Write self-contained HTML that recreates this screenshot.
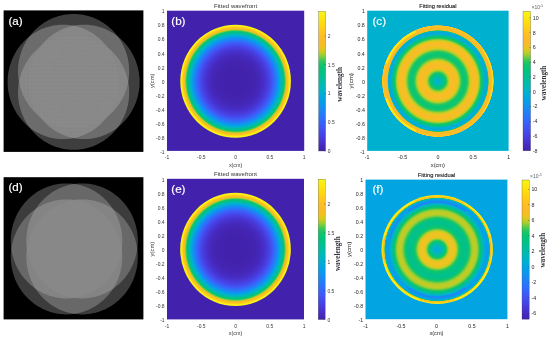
<!DOCTYPE html><html><head><meta charset="utf-8"><title>figure</title><style>html,body{margin:0;padding:0;background:#fff}svg{display:block}</style></head><body><svg width="550" height="340" viewBox="0 0 550 340">
<defs><filter id="bl" x="-20%" y="-20%" width="140%" height="140%"><feGaussianBlur stdDeviation="0.6"/></filter><pattern id="grid" width="1.35" height="1.35" patternUnits="userSpaceOnUse"><path d="M0,0H1.35M0,0V1.35" stroke="#000" stroke-opacity="0.04" stroke-width="0.5" fill="none"/></pattern></defs>
<rect width="550" height="340" fill="#fff"/>
<rect x="3.6" y="10.4" width="139.8" height="141.5" fill="#000"/>
<path d="M117.43,36.01 116.58,34.91 115.70,33.84 114.80,32.79 113.87,31.76 112.91,30.75 111.94,29.77 110.94,28.82 109.92,27.89 108.87,26.98 107.81,26.11 106.72,25.26 105.61,24.43 104.49,23.64 103.35,22.87 102.18,22.14 101.00,21.43 99.81,20.75 98.60,20.11 97.37,19.49 96.13,18.91 94.88,18.35 93.61,17.83 92.33,17.34 91.04,16.89 89.74,16.46 88.43,16.07 87.11,15.71 85.78,15.39 84.45,15.10 83.11,14.84 81.76,14.62 80.41,14.43 79.05,14.28 77.69,14.15 76.33,14.07 74.96,14.02 73.60,14.00 72.24,14.02 70.87,14.07 69.51,14.15 68.15,14.28 66.79,14.43 65.44,14.62 64.09,14.84 62.75,15.10 61.42,15.39 60.09,15.71 58.77,16.07 57.46,16.46 56.16,16.89 54.87,17.34 53.59,17.83 52.32,18.35 51.07,18.91 49.83,19.49 48.60,20.11 47.39,20.75 46.20,21.43 45.02,22.14 43.85,22.87 42.71,23.64 41.59,24.43 40.48,25.26 39.39,26.11 38.33,26.98 37.28,27.89 36.26,28.82 35.26,29.77 34.29,30.75 33.33,31.76 32.40,32.79 31.50,33.84 30.62,34.91 29.77,36.01 29.43,36.46 28.99,36.81 27.93,37.68 26.88,38.59 25.86,39.52 24.86,40.47 23.89,41.45 22.93,42.46 22.00,43.49 21.10,44.54 20.22,45.61 19.37,46.71 18.54,47.83 17.74,48.96 16.97,50.12 16.23,51.30 15.51,52.49 14.82,53.71 14.17,54.94 13.54,56.18 12.94,57.44 12.37,58.72 11.83,60.01 11.33,61.31 10.85,62.63 10.41,63.96 10.00,65.30 9.62,66.64 9.27,68.00 8.95,69.37 8.67,70.74 8.42,72.12 8.20,73.51 8.02,74.90 7.87,76.29 7.75,77.69 7.67,79.09 7.62,80.50 7.60,81.90 7.62,83.30 7.67,84.71 7.75,86.11 7.87,87.51 8.02,88.90 8.20,90.29 8.42,91.68 8.67,93.06 8.95,94.43 9.27,95.80 9.62,97.16 10.00,98.50 10.41,99.84 10.85,101.17 11.33,102.49 11.83,103.79 12.37,105.08 12.94,106.36 13.54,107.62 14.17,108.86 14.82,110.09 15.51,111.31 16.23,112.50 16.97,113.68 17.74,114.84 18.54,115.97 19.37,117.09 20.22,118.19 21.10,119.26 22.00,120.31 22.93,121.34 23.89,122.35 24.86,123.33 25.86,124.28 26.88,125.21 27.93,126.12 28.99,126.99 29.43,127.34 29.77,127.79 30.62,128.89 31.50,129.96 32.40,131.01 33.33,132.04 34.29,133.05 35.26,134.03 36.26,134.98 37.28,135.91 38.33,136.82 39.39,137.69 40.48,138.54 41.59,139.37 42.71,140.16 43.85,140.93 45.02,141.66 46.20,142.37 47.39,143.05 48.60,143.69 49.83,144.31 51.07,144.89 52.32,145.45 53.59,145.97 54.87,146.46 56.16,146.91 57.46,147.34 58.77,147.73 60.09,148.09 61.42,148.41 62.75,148.70 64.09,148.96 65.44,149.18 66.79,149.37 68.15,149.52 69.51,149.65 70.87,149.73 72.24,149.78 73.60,149.80 74.96,149.78 76.33,149.73 77.69,149.65 79.05,149.52 80.41,149.37 81.76,149.18 83.11,148.96 84.45,148.70 85.78,148.41 87.11,148.09 88.43,147.73 89.74,147.34 91.04,146.91 92.33,146.46 93.61,145.97 94.88,145.45 96.13,144.89 97.37,144.31 98.60,143.69 99.81,143.05 101.00,142.37 102.18,141.66 103.35,140.93 104.49,140.16 105.61,139.37 106.72,138.54 107.81,137.69 108.87,136.82 109.92,135.91 110.94,134.98 111.94,134.03 112.91,133.05 113.87,132.04 114.80,131.01 115.70,129.96 116.58,128.89 117.43,127.79 117.77,127.34 118.21,126.99 119.27,126.12 120.32,125.21 121.34,124.28 122.34,123.33 123.31,122.35 124.27,121.34 125.20,120.31 126.10,119.26 126.98,118.19 127.83,117.09 128.66,115.97 129.46,114.84 130.23,113.68 130.97,112.50 131.69,111.31 132.38,110.09 133.03,108.86 133.66,107.62 134.26,106.36 134.83,105.08 135.37,103.79 135.87,102.49 136.35,101.17 136.79,99.84 137.20,98.50 137.58,97.16 137.93,95.80 138.25,94.43 138.53,93.06 138.78,91.68 139.00,90.29 139.18,88.90 139.33,87.51 139.45,86.11 139.53,84.71 139.58,83.30 139.60,81.90 139.58,80.50 139.53,79.09 139.45,77.69 139.33,76.29 139.18,74.90 139.00,73.51 138.78,72.12 138.53,70.74 138.25,69.37 137.93,68.00 137.58,66.64 137.20,65.30 136.79,63.96 136.35,62.63 135.87,61.31 135.37,60.01 134.83,58.72 134.26,57.44 133.66,56.18 133.03,54.94 132.38,53.71 131.69,52.49 130.97,51.30 130.23,50.12 129.46,48.96 128.66,47.83 127.83,46.71 126.98,45.61 126.10,44.54 125.20,43.49 124.27,42.46 123.31,41.45 122.34,40.47 121.34,39.52 120.32,38.59 119.27,37.68 118.21,36.81 117.77,36.46Z" fill="#3e3e3e" fill-rule="evenodd"/>
<path d="M71.36,25.32 70.01,25.13 68.65,24.98 67.29,24.85 65.93,24.77 64.56,24.72 63.20,24.70 61.84,24.72 60.47,24.77 59.11,24.85 57.75,24.98 56.39,25.13 55.04,25.32 53.69,25.54 52.35,25.80 51.02,26.09 49.69,26.41 48.37,26.77 47.06,27.16 45.76,27.59 44.47,28.04 43.19,28.53 41.92,29.05 40.67,29.61 39.43,30.19 38.20,30.81 36.99,31.45 35.80,32.13 34.62,32.84 33.45,33.57 32.31,34.34 31.19,35.13 30.08,35.96 29.43,36.46 28.94,37.13 28.14,38.26 27.37,39.42 26.63,40.60 25.91,41.79 25.22,43.01 24.57,44.24 23.94,45.48 23.34,46.74 22.77,48.02 22.23,49.31 21.73,50.61 21.25,51.93 20.81,53.26 20.40,54.60 20.02,55.94 19.67,57.30 19.35,58.67 19.07,60.04 18.82,61.42 18.60,62.81 18.42,64.20 18.27,65.59 18.15,66.99 18.07,68.39 18.02,69.80 18.00,71.20 18.02,72.60 18.07,74.01 18.15,75.41 18.27,76.81 18.42,78.20 18.60,79.59 18.82,80.98 18.99,81.90 18.82,82.82 18.60,84.21 18.42,85.60 18.27,86.99 18.15,88.39 18.07,89.79 18.02,91.20 18.00,92.60 18.02,94.00 18.07,95.41 18.15,96.81 18.27,98.21 18.42,99.60 18.60,100.99 18.82,102.38 19.07,103.76 19.35,105.13 19.67,106.50 20.02,107.86 20.40,109.20 20.81,110.54 21.25,111.87 21.73,113.19 22.23,114.49 22.77,115.78 23.34,117.06 23.94,118.32 24.57,119.56 25.22,120.79 25.91,122.01 26.63,123.20 27.37,124.38 28.14,125.54 28.94,126.67 29.43,127.34 30.08,127.84 31.19,128.67 32.31,129.46 33.45,130.23 34.62,130.96 35.80,131.67 36.99,132.35 38.20,132.99 39.43,133.61 40.67,134.19 41.92,134.75 43.19,135.27 44.47,135.76 45.76,136.21 47.06,136.64 48.37,137.03 49.69,137.39 51.02,137.71 52.35,138.00 53.69,138.26 55.04,138.48 56.39,138.67 57.75,138.82 59.11,138.95 60.47,139.03 61.84,139.08 63.20,139.10 64.56,139.08 65.93,139.03 67.29,138.95 68.65,138.82 70.01,138.67 71.36,138.48 72.70,138.26 73.60,138.09 74.50,138.26 75.84,138.48 77.19,138.67 78.55,138.82 79.91,138.95 81.27,139.03 82.64,139.08 84.00,139.10 85.36,139.08 86.73,139.03 88.09,138.95 89.45,138.82 90.81,138.67 92.16,138.48 93.51,138.26 94.85,138.00 96.18,137.71 97.51,137.39 98.83,137.03 100.14,136.64 101.44,136.21 102.73,135.76 104.01,135.27 105.28,134.75 106.53,134.19 107.77,133.61 109.00,132.99 110.21,132.35 111.40,131.67 112.58,130.96 113.75,130.23 114.89,129.46 116.01,128.67 117.12,127.84 117.77,127.34 118.26,126.67 119.06,125.54 119.83,124.38 120.57,123.20 121.29,122.01 121.98,120.79 122.63,119.56 123.26,118.32 123.86,117.06 124.43,115.78 124.97,114.49 125.47,113.19 125.95,111.87 126.39,110.54 126.80,109.20 127.18,107.86 127.53,106.50 127.85,105.13 128.13,103.76 128.38,102.38 128.60,100.99 128.78,99.60 128.93,98.21 129.05,96.81 129.13,95.41 129.18,94.00 129.20,92.60 129.18,91.20 129.13,89.79 129.05,88.39 128.93,86.99 128.78,85.60 128.60,84.21 128.38,82.82 128.21,81.90 128.21,81.90 128.21,81.90 128.38,80.98 128.60,79.59 128.78,78.20 128.93,76.81 129.05,75.41 129.13,74.01 129.18,72.60 129.20,71.20 129.18,69.80 129.13,68.39 129.05,66.99 128.93,65.59 128.78,64.20 128.60,62.81 128.38,61.42 128.13,60.04 127.85,58.67 127.53,57.30 127.18,55.94 126.80,54.60 126.39,53.26 125.95,51.93 125.47,50.61 124.97,49.31 124.43,48.02 123.86,46.74 123.26,45.48 122.63,44.24 121.98,43.01 121.29,41.79 120.57,40.60 119.83,39.42 119.06,38.26 118.26,37.13 117.77,36.46 117.12,35.96 116.01,35.13 114.89,34.34 113.75,33.57 112.58,32.84 111.40,32.13 110.21,31.45 109.00,30.81 107.77,30.19 106.53,29.61 105.28,29.05 104.01,28.53 102.73,28.04 101.44,27.59 100.14,27.16 98.83,26.77 97.51,26.41 96.18,26.09 94.85,25.80 93.51,25.54 92.16,25.32 90.81,25.13 89.45,24.98 88.09,24.85 86.73,24.77 85.36,24.72 84.00,24.70 82.64,24.72 81.27,24.77 79.91,24.85 78.55,24.98 77.19,25.13 75.84,25.32 74.50,25.54 73.60,25.71 72.70,25.54Z" fill="#6c6c6c" fill-rule="evenodd"/>
<path d="M107.03,46.71 106.18,45.61 105.30,44.54 104.40,43.49 103.47,42.46 102.51,41.45 101.54,40.47 100.54,39.52 99.51,38.59 98.47,37.68 97.41,36.81 96.32,35.96 95.21,35.13 94.09,34.34 92.94,33.57 91.78,32.84 90.60,32.13 89.41,31.45 88.20,30.81 86.97,30.19 85.73,29.61 84.48,29.05 83.21,28.53 81.93,28.04 80.64,27.59 79.34,27.16 78.03,26.77 76.71,26.41 75.38,26.09 74.05,25.80 73.60,25.71 73.15,25.80 71.82,26.09 70.49,26.41 69.17,26.77 67.86,27.16 66.56,27.59 65.27,28.04 63.99,28.53 62.72,29.05 61.47,29.61 60.23,30.19 59.00,30.81 57.79,31.45 56.60,32.13 55.42,32.84 54.26,33.57 53.11,34.34 51.99,35.13 50.88,35.96 49.79,36.81 48.73,37.68 47.69,38.59 46.66,39.52 45.66,40.47 44.69,41.45 43.73,42.46 42.80,43.49 41.90,44.54 41.02,45.61 40.17,46.71 39.83,47.16 39.39,47.51 38.33,48.38 37.28,49.29 36.26,50.22 35.26,51.17 34.29,52.15 33.33,53.16 32.40,54.19 31.50,55.24 30.62,56.31 29.77,57.41 28.94,58.53 28.14,59.66 27.37,60.82 26.63,62.00 25.91,63.19 25.22,64.41 24.57,65.64 23.94,66.88 23.34,68.14 22.77,69.42 22.23,70.71 21.73,72.01 21.25,73.33 20.81,74.66 20.40,76.00 20.02,77.34 19.67,78.70 19.35,80.07 19.07,81.44 18.99,81.90 19.07,82.36 19.35,83.73 19.67,85.10 20.02,86.46 20.40,87.80 20.81,89.14 21.25,90.47 21.73,91.79 22.23,93.09 22.77,94.38 23.34,95.66 23.94,96.92 24.57,98.16 25.22,99.39 25.91,100.61 26.63,101.80 27.37,102.98 28.14,104.14 28.94,105.27 29.77,106.39 30.62,107.49 31.50,108.56 32.40,109.61 33.33,110.64 34.29,111.65 35.26,112.63 36.26,113.58 37.28,114.51 38.33,115.42 39.39,116.29 39.83,116.64 39.83,116.64 40.17,117.09 41.02,118.19 41.90,119.26 42.80,120.31 43.73,121.34 44.69,122.35 45.66,123.33 46.66,124.28 47.69,125.21 48.73,126.12 49.79,126.99 50.88,127.84 51.99,128.67 53.11,129.46 54.26,130.23 55.42,130.96 56.60,131.67 57.79,132.35 59.00,132.99 60.23,133.61 61.47,134.19 62.72,134.75 63.99,135.27 65.27,135.76 66.56,136.21 67.86,136.64 69.17,137.03 70.49,137.39 71.82,137.71 73.15,138.00 73.60,138.09 74.05,138.00 75.38,137.71 76.71,137.39 78.03,137.03 79.34,136.64 80.64,136.21 81.93,135.76 83.21,135.27 84.48,134.75 85.73,134.19 86.97,133.61 88.20,132.99 89.41,132.35 90.60,131.67 91.78,130.96 92.94,130.23 94.09,129.46 95.21,128.67 96.32,127.84 97.41,126.99 98.47,126.12 99.51,125.21 100.54,124.28 101.54,123.33 102.51,122.35 103.47,121.34 104.40,120.31 105.30,119.26 106.18,118.19 107.03,117.09 107.37,116.64 107.81,116.29 108.87,115.42 109.92,114.51 110.94,113.58 111.94,112.63 112.91,111.65 113.87,110.64 114.80,109.61 115.70,108.56 116.58,107.49 117.43,106.39 118.26,105.27 119.06,104.14 119.83,102.98 120.57,101.80 121.29,100.61 121.98,99.39 122.63,98.16 123.26,96.92 123.86,95.66 124.43,94.38 124.97,93.09 125.47,91.79 125.95,90.47 126.39,89.14 126.80,87.80 127.18,86.46 127.53,85.10 127.85,83.73 128.13,82.36 128.21,81.90 128.13,81.44 127.85,80.07 127.53,78.70 127.18,77.34 126.80,76.00 126.39,74.66 125.95,73.33 125.47,72.01 124.97,70.71 124.43,69.42 123.86,68.14 123.26,66.88 122.63,65.64 121.98,64.41 121.29,63.19 120.57,62.00 119.83,60.82 119.06,59.66 118.26,58.53 117.43,57.41 116.58,56.31 115.70,55.24 114.80,54.19 113.87,53.16 112.91,52.15 111.94,51.17 110.94,50.22 109.92,49.29 108.87,48.38 107.81,47.51 107.37,47.16Z" fill="#898989" fill-rule="evenodd"/>
<path d="M118.65,77.69 118.53,76.29 118.38,74.90 118.20,73.51 117.98,72.12 117.73,70.74 117.45,69.37 117.13,68.00 116.78,66.64 116.40,65.30 115.99,63.96 115.55,62.63 115.07,61.31 114.57,60.01 114.03,58.72 113.46,57.44 112.86,56.18 112.23,54.94 111.58,53.71 110.89,52.49 110.17,51.30 109.43,50.12 108.66,48.96 107.86,47.83 107.37,47.16 106.72,46.66 105.61,45.83 104.49,45.04 103.35,44.27 102.18,43.54 101.00,42.83 99.81,42.15 98.60,41.51 97.37,40.89 96.13,40.31 94.88,39.75 93.61,39.23 92.33,38.74 91.04,38.29 89.74,37.86 88.43,37.47 87.11,37.11 85.78,36.79 84.45,36.50 83.11,36.24 81.76,36.02 80.41,35.83 79.05,35.68 77.69,35.55 76.33,35.47 74.96,35.42 73.60,35.40 72.24,35.42 70.87,35.47 69.51,35.55 68.15,35.68 66.79,35.83 65.44,36.02 64.09,36.24 62.75,36.50 61.42,36.79 60.09,37.11 58.77,37.47 57.46,37.86 56.16,38.29 54.87,38.74 53.59,39.23 52.32,39.75 51.07,40.31 49.83,40.89 48.60,41.51 47.39,42.15 46.20,42.83 45.02,43.54 43.85,44.27 42.71,45.04 41.59,45.83 40.48,46.66 39.83,47.16 39.34,47.83 38.54,48.96 37.77,50.12 37.03,51.30 36.31,52.49 35.62,53.71 34.97,54.94 34.34,56.18 33.74,57.44 33.17,58.72 32.63,60.01 32.13,61.31 31.65,62.63 31.21,63.96 30.80,65.30 30.42,66.64 30.07,68.00 29.75,69.37 29.47,70.74 29.22,72.12 29.00,73.51 28.82,74.90 28.67,76.29 28.55,77.69 28.47,79.09 28.42,80.50 28.40,81.90 28.42,83.30 28.47,84.71 28.55,86.11 28.67,87.51 28.82,88.90 29.00,90.29 29.22,91.68 29.47,93.06 29.75,94.43 30.07,95.80 30.42,97.16 30.80,98.50 31.21,99.84 31.65,101.17 32.13,102.49 32.63,103.79 33.17,105.08 33.74,106.36 34.34,107.62 34.97,108.86 35.62,110.09 36.31,111.31 37.03,112.50 37.77,113.68 38.54,114.84 39.34,115.97 39.83,116.64 40.48,117.14 41.59,117.97 42.71,118.76 43.85,119.53 45.02,120.26 46.20,120.97 47.39,121.65 48.60,122.29 49.83,122.91 51.07,123.49 52.32,124.05 53.59,124.57 54.87,125.06 56.16,125.51 57.46,125.94 58.77,126.33 60.09,126.69 61.42,127.01 62.75,127.30 64.09,127.56 65.44,127.78 66.79,127.97 68.15,128.12 69.51,128.25 70.87,128.33 72.24,128.38 73.60,128.40 74.96,128.38 76.33,128.33 77.69,128.25 79.05,128.12 80.41,127.97 81.76,127.78 83.11,127.56 84.45,127.30 85.78,127.01 87.11,126.69 88.43,126.33 89.74,125.94 91.04,125.51 92.33,125.06 93.61,124.57 94.88,124.05 96.13,123.49 97.37,122.91 98.60,122.29 99.81,121.65 101.00,120.97 102.18,120.26 103.35,119.53 104.49,118.76 105.61,117.97 106.72,117.14 107.37,116.64 107.86,115.97 108.66,114.84 109.43,113.68 110.17,112.50 110.89,111.31 111.58,110.09 112.23,108.86 112.86,107.62 113.46,106.36 114.03,105.08 114.57,103.79 115.07,102.49 115.55,101.17 115.99,99.84 116.40,98.50 116.78,97.16 117.13,95.80 117.45,94.43 117.73,93.06 117.98,91.68 118.20,90.29 118.38,88.90 118.53,87.51 118.65,86.11 118.73,84.71 118.78,83.30 118.80,81.90 118.78,80.50 118.73,79.09Z" fill="#8b8b8b" fill-rule="evenodd"/>
<path d="M107.03,46.71 106.18,45.61 105.30,44.54 104.40,43.49 103.47,42.46 102.51,41.45 101.54,40.47 100.54,39.52 99.51,38.59 98.47,37.68 97.41,36.81 96.32,35.96 95.21,35.13 94.09,34.34 92.94,33.57 91.78,32.84 90.60,32.13 89.41,31.45 88.20,30.81 86.97,30.19 85.73,29.61 84.48,29.05 83.21,28.53 81.93,28.04 80.64,27.59 79.34,27.16 78.03,26.77 76.71,26.41 75.38,26.09 74.05,25.80 73.60,25.71 73.15,25.80 71.82,26.09 70.49,26.41 69.17,26.77 67.86,27.16 66.56,27.59 65.27,28.04 63.99,28.53 62.72,29.05 61.47,29.61 60.23,30.19 59.00,30.81 57.79,31.45 56.60,32.13 55.42,32.84 54.26,33.57 53.11,34.34 51.99,35.13 50.88,35.96 49.79,36.81 48.73,37.68 47.69,38.59 46.66,39.52 45.66,40.47 44.69,41.45 43.73,42.46 42.80,43.49 41.90,44.54 41.02,45.61 40.17,46.71 39.83,47.16 39.39,47.51 38.33,48.38 37.28,49.29 36.26,50.22 35.26,51.17 34.29,52.15 33.33,53.16 32.40,54.19 31.50,55.24 30.62,56.31 29.77,57.41 28.94,58.53 28.14,59.66 27.37,60.82 26.63,62.00 25.91,63.19 25.22,64.41 24.57,65.64 23.94,66.88 23.34,68.14 22.77,69.42 22.23,70.71 21.73,72.01 21.25,73.33 20.81,74.66 20.40,76.00 20.02,77.34 19.67,78.70 19.35,80.07 19.07,81.44 18.99,81.90 19.07,82.36 19.35,83.73 19.67,85.10 20.02,86.46 20.40,87.80 20.81,89.14 21.25,90.47 21.73,91.79 22.23,93.09 22.77,94.38 23.34,95.66 23.94,96.92 24.57,98.16 25.22,99.39 25.91,100.61 26.63,101.80 27.37,102.98 28.14,104.14 28.94,105.27 29.77,106.39 30.62,107.49 31.50,108.56 32.40,109.61 33.33,110.64 34.29,111.65 35.26,112.63 36.26,113.58 37.28,114.51 38.33,115.42 39.39,116.29 39.83,116.64 39.83,116.64 40.17,117.09 41.02,118.19 41.90,119.26 42.80,120.31 43.73,121.34 44.69,122.35 45.66,123.33 46.66,124.28 47.69,125.21 48.73,126.12 49.79,126.99 50.88,127.84 51.99,128.67 53.11,129.46 54.26,130.23 55.42,130.96 56.60,131.67 57.79,132.35 59.00,132.99 60.23,133.61 61.47,134.19 62.72,134.75 63.99,135.27 65.27,135.76 66.56,136.21 67.86,136.64 69.17,137.03 70.49,137.39 71.82,137.71 73.15,138.00 73.60,138.09 74.05,138.00 75.38,137.71 76.71,137.39 78.03,137.03 79.34,136.64 80.64,136.21 81.93,135.76 83.21,135.27 84.48,134.75 85.73,134.19 86.97,133.61 88.20,132.99 89.41,132.35 90.60,131.67 91.78,130.96 92.94,130.23 94.09,129.46 95.21,128.67 96.32,127.84 97.41,126.99 98.47,126.12 99.51,125.21 100.54,124.28 101.54,123.33 102.51,122.35 103.47,121.34 104.40,120.31 105.30,119.26 106.18,118.19 107.03,117.09 107.37,116.64 107.81,116.29 108.87,115.42 109.92,114.51 110.94,113.58 111.94,112.63 112.91,111.65 113.87,110.64 114.80,109.61 115.70,108.56 116.58,107.49 117.43,106.39 118.26,105.27 119.06,104.14 119.83,102.98 120.57,101.80 121.29,100.61 121.98,99.39 122.63,98.16 123.26,96.92 123.86,95.66 124.43,94.38 124.97,93.09 125.47,91.79 125.95,90.47 126.39,89.14 126.80,87.80 127.18,86.46 127.53,85.10 127.85,83.73 128.13,82.36 128.21,81.90 128.13,81.44 127.85,80.07 127.53,78.70 127.18,77.34 126.80,76.00 126.39,74.66 125.95,73.33 125.47,72.01 124.97,70.71 124.43,69.42 123.86,68.14 123.26,66.88 122.63,65.64 121.98,64.41 121.29,63.19 120.57,62.00 119.83,60.82 119.06,59.66 118.26,58.53 117.43,57.41 116.58,56.31 115.70,55.24 114.80,54.19 113.87,53.16 112.91,52.15 111.94,51.17 110.94,50.22 109.92,49.29 108.87,48.38 107.81,47.51 107.37,47.16Z" fill="url(#grid)" fill-rule="evenodd"/>
<text x="8.4" y="24.7" font-family='"Liberation Sans", Arial, sans-serif' font-size="11.6" fill="#fff" stroke="#fff" stroke-width="0.2">(a)</text>
<rect x="3.6" y="177.2" width="139.8" height="142.2" fill="#000"/>
<path d="M72.01,183.68 70.64,183.56 69.28,183.47 67.91,183.42 66.54,183.40 65.17,183.42 63.80,183.47 62.44,183.56 61.07,183.68 59.71,183.83 58.36,184.02 57.00,184.25 55.66,184.50 54.32,184.80 52.99,185.12 51.66,185.48 50.35,185.88 49.04,186.30 47.75,186.76 46.47,187.25 45.20,187.78 43.94,188.33 42.69,188.92 41.46,189.54 40.25,190.19 39.05,190.87 37.87,191.58 36.70,192.32 35.55,193.09 34.42,193.89 33.31,194.72 32.23,195.57 31.16,196.45 30.11,197.36 29.08,198.30 28.08,199.26 27.10,200.24 26.15,201.25 25.21,202.29 24.31,203.34 23.43,204.42 22.57,205.52 21.74,206.65 20.94,207.79 20.16,208.95 19.42,210.14 18.70,211.34 18.01,212.56 17.35,213.79 16.72,215.05 16.12,216.32 15.55,217.60 15.01,218.90 14.50,220.21 14.03,221.53 13.58,222.86 13.17,224.21 12.79,225.56 12.44,226.93 12.12,228.30 11.84,229.68 11.59,231.07 11.37,232.46 11.18,233.86 11.03,235.26 10.92,236.67 10.83,238.08 10.78,239.49 10.77,240.90 10.78,242.31 10.83,243.72 10.92,245.13 11.03,246.54 11.18,247.94 11.31,248.90 11.18,249.86 11.03,251.26 10.92,252.67 10.83,254.08 10.78,255.49 10.77,256.90 10.78,258.31 10.83,259.72 10.92,261.13 11.03,262.54 11.18,263.94 11.37,265.34 11.59,266.73 11.84,268.12 12.12,269.50 12.44,270.87 12.79,272.24 13.17,273.59 13.58,274.94 14.03,276.27 14.50,277.59 15.01,278.90 15.55,280.20 16.12,281.48 16.72,282.75 17.35,284.01 18.01,285.24 18.70,286.46 19.42,287.66 20.16,288.85 20.94,290.01 21.74,291.15 22.57,292.28 23.43,293.38 24.31,294.46 25.21,295.51 26.15,296.55 27.10,297.56 28.08,298.54 29.08,299.50 30.11,300.44 31.16,301.35 32.23,302.23 33.31,303.08 34.42,303.91 35.55,304.71 36.70,305.48 37.87,306.22 39.05,306.93 40.25,307.61 41.46,308.26 42.69,308.88 43.94,309.47 45.20,310.02 46.47,310.55 47.75,311.04 49.04,311.50 50.35,311.92 51.66,312.32 52.99,312.68 54.32,313.00 55.66,313.30 57.00,313.55 58.36,313.78 59.71,313.97 61.07,314.12 62.44,314.24 63.80,314.33 65.17,314.38 66.54,314.40 67.91,314.38 69.28,314.33 70.64,314.24 72.01,314.12 73.37,313.97 74.30,313.84 75.23,313.97 76.59,314.12 77.96,314.24 79.32,314.33 80.69,314.38 82.06,314.40 83.43,314.38 84.80,314.33 86.16,314.24 87.53,314.12 88.89,313.97 90.24,313.78 91.60,313.55 92.94,313.30 94.28,313.00 95.61,312.68 96.94,312.32 98.25,311.92 99.56,311.50 100.85,311.04 102.13,310.55 103.40,310.02 104.66,309.47 105.91,308.88 107.14,308.26 108.35,307.61 109.55,306.93 110.73,306.22 111.90,305.48 113.05,304.71 114.18,303.91 115.29,303.08 116.37,302.23 117.44,301.35 118.49,300.44 119.52,299.50 120.52,298.54 121.50,297.56 122.45,296.55 123.39,295.51 124.29,294.46 125.17,293.38 126.03,292.28 126.86,291.15 127.66,290.01 128.44,288.85 129.18,287.66 129.90,286.46 130.59,285.24 131.25,284.01 131.88,282.75 132.48,281.48 133.05,280.20 133.59,278.90 134.10,277.59 134.57,276.27 135.02,274.94 135.43,273.59 135.81,272.24 136.16,270.87 136.48,269.50 136.76,268.12 137.01,266.73 137.23,265.34 137.42,263.94 137.57,262.54 137.68,261.13 137.77,259.72 137.82,258.31 137.83,256.90 137.82,255.49 137.77,254.08 137.68,252.67 137.57,251.26 137.42,249.86 137.29,248.90 137.42,247.94 137.57,246.54 137.68,245.13 137.77,243.72 137.82,242.31 137.83,240.90 137.82,239.49 137.77,238.08 137.68,236.67 137.57,235.26 137.42,233.86 137.23,232.46 137.01,231.07 136.76,229.68 136.48,228.30 136.16,226.93 135.81,225.56 135.43,224.21 135.02,222.86 134.57,221.53 134.10,220.21 133.59,218.90 133.05,217.60 132.48,216.32 131.88,215.05 131.25,213.79 130.59,212.56 129.90,211.34 129.18,210.14 128.44,208.95 127.66,207.79 126.86,206.65 126.03,205.52 125.17,204.42 124.29,203.34 123.39,202.29 122.45,201.25 121.50,200.24 120.52,199.26 119.52,198.30 118.49,197.36 117.44,196.45 116.37,195.57 115.29,194.72 114.18,193.89 113.05,193.09 111.90,192.32 110.73,191.58 109.55,190.87 108.35,190.19 107.14,189.54 105.91,188.92 104.66,188.33 103.40,187.78 102.13,187.25 100.85,186.76 99.56,186.30 98.25,185.88 96.94,185.48 95.61,185.12 94.28,184.80 92.94,184.50 91.60,184.25 90.24,184.02 88.89,183.83 87.53,183.68 86.16,183.56 84.80,183.47 83.43,183.42 82.06,183.40 80.69,183.42 79.32,183.47 77.96,183.56 76.59,183.68 75.23,183.83 74.30,183.96 73.37,183.83Z" fill="#3c3c3c" fill-rule="evenodd"/>
<path d="M112.92,208.95 112.14,207.79 111.34,206.65 110.51,205.52 109.65,204.42 108.77,203.34 107.87,202.29 106.93,201.25 105.98,200.24 105.00,199.26 104.00,198.30 102.97,197.36 101.92,196.45 100.85,195.57 99.77,194.72 98.66,193.89 97.53,193.09 96.38,192.32 95.21,191.58 94.03,190.87 92.83,190.19 91.62,189.54 90.39,188.92 89.14,188.33 87.88,187.78 86.61,187.25 85.33,186.76 84.04,186.30 82.73,185.88 81.42,185.48 80.09,185.12 78.76,184.80 77.42,184.50 76.08,184.25 74.72,184.02 74.30,183.96 73.88,184.02 72.52,184.25 71.18,184.50 69.84,184.80 68.51,185.12 67.18,185.48 65.87,185.88 64.56,186.30 63.27,186.76 61.99,187.25 60.72,187.78 59.46,188.33 58.21,188.92 56.98,189.54 55.77,190.19 54.57,190.87 53.39,191.58 52.22,192.32 51.07,193.09 49.94,193.89 48.83,194.72 47.75,195.57 46.68,196.45 45.63,197.36 44.60,198.30 43.60,199.26 42.62,200.24 41.67,201.25 40.73,202.29 39.83,203.34 38.95,204.42 38.09,205.52 37.26,206.65 36.46,207.79 35.68,208.95 35.63,209.04 35.55,209.09 34.42,209.89 33.31,210.72 32.23,211.57 31.16,212.45 30.11,213.36 29.08,214.30 28.08,215.26 27.10,216.24 26.15,217.25 25.21,218.29 24.31,219.34 23.43,220.42 22.57,221.52 21.74,222.65 20.94,223.79 20.16,224.95 19.42,226.14 18.70,227.34 18.01,228.56 17.35,229.79 16.72,231.05 16.12,232.32 15.55,233.60 15.01,234.90 14.50,236.21 14.03,237.53 13.58,238.86 13.17,240.21 12.79,241.56 12.44,242.93 12.12,244.30 11.84,245.68 11.59,247.07 11.37,248.46 11.31,248.90 11.37,249.34 11.59,250.73 11.84,252.12 12.12,253.50 12.44,254.87 12.79,256.24 13.17,257.59 13.58,258.94 14.03,260.27 14.50,261.59 15.01,262.90 15.55,264.20 16.12,265.48 16.72,266.75 17.35,268.01 18.01,269.24 18.70,270.46 19.42,271.66 20.16,272.85 20.94,274.01 21.74,275.15 22.57,276.28 23.43,277.38 24.31,278.46 25.21,279.51 26.15,280.55 27.10,281.56 28.08,282.54 29.08,283.50 30.11,284.44 31.16,285.35 32.23,286.23 33.31,287.08 34.42,287.91 35.55,288.71 35.63,288.76 35.68,288.85 36.46,290.01 37.26,291.15 38.09,292.28 38.95,293.38 39.83,294.46 40.73,295.51 41.67,296.55 42.62,297.56 43.60,298.54 44.60,299.50 45.63,300.44 46.68,301.35 47.75,302.23 48.83,303.08 49.94,303.91 51.07,304.71 52.22,305.48 53.39,306.22 54.57,306.93 55.77,307.61 56.98,308.26 58.21,308.88 59.46,309.47 60.72,310.02 61.99,310.55 63.27,311.04 64.56,311.50 65.87,311.92 67.18,312.32 68.51,312.68 69.84,313.00 71.18,313.30 72.52,313.55 73.88,313.78 74.30,313.84 74.72,313.78 76.08,313.55 77.42,313.30 78.76,313.00 80.09,312.68 81.42,312.32 82.73,311.92 84.04,311.50 85.33,311.04 86.61,310.55 87.88,310.02 89.14,309.47 90.39,308.88 91.62,308.26 92.83,307.61 94.03,306.93 95.21,306.22 96.38,305.48 97.53,304.71 98.66,303.91 99.77,303.08 100.85,302.23 101.92,301.35 102.97,300.44 104.00,299.50 105.00,298.54 105.98,297.56 106.93,296.55 107.87,295.51 108.77,294.46 109.65,293.38 110.51,292.28 111.34,291.15 112.14,290.01 112.92,288.85 112.97,288.76 113.05,288.71 114.18,287.91 115.29,287.08 116.37,286.23 117.44,285.35 118.49,284.44 119.52,283.50 120.52,282.54 121.50,281.56 122.45,280.55 123.39,279.51 124.29,278.46 125.17,277.38 126.03,276.28 126.86,275.15 127.66,274.01 128.44,272.85 129.18,271.66 129.90,270.46 130.59,269.24 131.25,268.01 131.88,266.75 132.48,265.48 133.05,264.20 133.59,262.90 134.10,261.59 134.57,260.27 135.02,258.94 135.43,257.59 135.81,256.24 136.16,254.87 136.48,253.50 136.76,252.12 137.01,250.73 137.23,249.34 137.29,248.90 137.23,248.46 137.01,247.07 136.76,245.68 136.48,244.30 136.16,242.93 135.81,241.56 135.43,240.21 135.02,238.86 134.57,237.53 134.10,236.21 133.59,234.90 133.05,233.60 132.48,232.32 131.88,231.05 131.25,229.79 130.59,228.56 129.90,227.34 129.18,226.14 128.44,224.95 127.66,223.79 126.86,222.65 126.03,221.52 125.17,220.42 124.29,219.34 123.39,218.29 122.45,217.25 121.50,216.24 120.52,215.26 119.52,214.30 118.49,213.36 117.44,212.45 116.37,211.57 115.29,210.72 114.18,209.89 113.05,209.09 112.97,209.04Z" fill="#686868" fill-rule="evenodd"/>
<path d="M33.53,212.56 32.87,213.79 32.24,215.05 31.64,216.32 31.07,217.60 30.53,218.90 30.02,220.21 29.55,221.53 29.10,222.86 28.69,224.21 28.31,225.56 27.96,226.93 27.64,228.30 27.36,229.68 27.11,231.07 26.89,232.46 26.70,233.86 26.55,235.26 26.44,236.67 26.35,238.08 26.30,239.49 26.28,240.90 26.30,242.31 26.35,243.72 26.44,245.13 26.55,246.54 26.70,247.94 26.83,248.90 26.70,249.86 26.55,251.26 26.44,252.67 26.35,254.08 26.30,255.49 26.28,256.90 26.30,258.31 26.35,259.72 26.44,261.13 26.55,262.54 26.70,263.94 26.89,265.34 27.11,266.73 27.36,268.12 27.64,269.50 27.96,270.87 28.31,272.24 28.69,273.59 29.10,274.94 29.55,276.27 30.02,277.59 30.53,278.90 31.07,280.20 31.64,281.48 32.24,282.75 32.87,284.01 33.53,285.24 34.22,286.46 34.94,287.66 35.63,288.76 36.70,289.48 37.87,290.22 39.05,290.93 40.25,291.61 41.46,292.26 42.69,292.88 43.94,293.47 45.20,294.02 46.47,294.55 47.75,295.04 49.04,295.50 50.35,295.92 51.66,296.32 52.99,296.68 54.32,297.00 55.66,297.30 57.00,297.55 58.36,297.78 59.71,297.97 61.07,298.12 62.44,298.24 63.80,298.33 65.17,298.38 66.54,298.40 67.91,298.38 69.28,298.33 70.64,298.24 72.01,298.12 73.37,297.97 74.30,297.84 75.23,297.97 76.59,298.12 77.96,298.24 79.32,298.33 80.69,298.38 82.06,298.40 83.43,298.38 84.80,298.33 86.16,298.24 87.53,298.12 88.89,297.97 90.24,297.78 91.60,297.55 92.94,297.30 94.28,297.00 95.61,296.68 96.94,296.32 98.25,295.92 99.56,295.50 100.85,295.04 102.13,294.55 103.40,294.02 104.66,293.47 105.91,292.88 107.14,292.26 108.35,291.61 109.55,290.93 110.73,290.22 111.90,289.48 112.97,288.76 113.66,287.66 114.38,286.46 115.07,285.24 115.73,284.01 116.36,282.75 116.96,281.48 117.53,280.20 118.07,278.90 118.58,277.59 119.05,276.27 119.50,274.94 119.91,273.59 120.29,272.24 120.64,270.87 120.96,269.50 121.24,268.12 121.49,266.73 121.71,265.34 121.90,263.94 122.05,262.54 122.16,261.13 122.25,259.72 122.30,258.31 122.31,256.90 122.30,255.49 122.25,254.08 122.16,252.67 122.05,251.26 121.90,249.86 121.77,248.90 121.90,247.94 122.05,246.54 122.16,245.13 122.25,243.72 122.30,242.31 122.31,240.90 122.30,239.49 122.25,238.08 122.16,236.67 122.05,235.26 121.90,233.86 121.71,232.46 121.49,231.07 121.24,229.68 120.96,228.30 120.64,226.93 120.29,225.56 119.91,224.21 119.50,222.86 119.05,221.53 118.58,220.21 118.07,218.90 117.53,217.60 116.96,216.32 116.36,215.05 115.73,213.79 115.07,212.56 114.38,211.34 113.66,210.14 112.97,209.04 111.90,208.32 110.73,207.58 109.55,206.87 108.35,206.19 107.14,205.54 105.91,204.92 104.66,204.33 103.40,203.78 102.13,203.25 100.85,202.76 99.56,202.30 98.25,201.88 96.94,201.48 95.61,201.12 94.28,200.80 92.94,200.50 91.60,200.25 90.24,200.02 88.89,199.83 87.53,199.68 86.16,199.56 84.80,199.47 83.43,199.42 82.06,199.40 80.69,199.42 79.32,199.47 77.96,199.56 76.59,199.68 75.23,199.83 74.30,199.96 73.37,199.83 72.01,199.68 70.64,199.56 69.28,199.47 67.91,199.42 66.54,199.40 65.17,199.42 63.80,199.47 62.44,199.56 61.07,199.68 59.71,199.83 58.36,200.02 57.00,200.25 55.66,200.50 54.32,200.80 52.99,201.12 51.66,201.48 50.35,201.88 49.04,202.30 47.75,202.76 46.47,203.25 45.20,203.78 43.94,204.33 42.69,204.92 41.46,205.54 40.25,206.19 39.05,206.87 37.87,207.58 36.70,208.32 35.63,209.04 34.94,210.14 34.22,211.34Z" fill="#848484" fill-rule="evenodd"/>
<path d="M26.89,249.34 27.11,250.73 27.36,252.12 27.64,253.50 27.96,254.87 28.31,256.24 28.69,257.59 29.10,258.94 29.55,260.27 30.02,261.59 30.53,262.90 31.07,264.20 31.64,265.48 32.24,266.75 32.87,268.01 33.53,269.24 34.22,270.46 34.94,271.66 35.68,272.85 36.46,274.01 37.26,275.15 38.09,276.28 38.95,277.38 39.83,278.46 40.73,279.51 41.67,280.55 42.62,281.56 43.60,282.54 44.60,283.50 45.63,284.44 46.68,285.35 47.75,286.23 48.83,287.08 49.94,287.91 51.07,288.71 52.22,289.48 53.39,290.22 54.57,290.93 55.77,291.61 56.98,292.26 58.21,292.88 59.46,293.47 60.72,294.02 61.99,294.55 63.27,295.04 64.56,295.50 65.87,295.92 67.18,296.32 68.51,296.68 69.84,297.00 71.18,297.30 72.52,297.55 73.88,297.78 74.30,297.84 74.72,297.78 76.08,297.55 77.42,297.30 78.76,297.00 80.09,296.68 81.42,296.32 82.73,295.92 84.04,295.50 85.33,295.04 86.61,294.55 87.88,294.02 89.14,293.47 90.39,292.88 91.62,292.26 92.83,291.61 94.03,290.93 95.21,290.22 96.38,289.48 97.53,288.71 98.66,287.91 99.77,287.08 100.85,286.23 101.92,285.35 102.97,284.44 104.00,283.50 105.00,282.54 105.98,281.56 106.93,280.55 107.87,279.51 108.77,278.46 109.65,277.38 110.51,276.28 111.34,275.15 112.14,274.01 112.92,272.85 113.66,271.66 114.38,270.46 115.07,269.24 115.73,268.01 116.36,266.75 116.96,265.48 117.53,264.20 118.07,262.90 118.58,261.59 119.05,260.27 119.50,258.94 119.91,257.59 120.29,256.24 120.64,254.87 120.96,253.50 121.24,252.12 121.49,250.73 121.71,249.34 121.77,248.90 121.71,248.46 121.49,247.07 121.24,245.68 120.96,244.30 120.64,242.93 120.29,241.56 119.91,240.21 119.50,238.86 119.05,237.53 118.58,236.21 118.07,234.90 117.53,233.60 116.96,232.32 116.36,231.05 115.73,229.79 115.07,228.56 114.38,227.34 113.66,226.14 112.92,224.95 112.14,223.79 111.34,222.65 110.51,221.52 109.65,220.42 108.77,219.34 107.87,218.29 106.93,217.25 105.98,216.24 105.00,215.26 104.00,214.30 102.97,213.36 101.92,212.45 100.85,211.57 99.77,210.72 98.66,209.89 97.53,209.09 96.38,208.32 95.21,207.58 94.03,206.87 92.83,206.19 91.62,205.54 90.39,204.92 89.14,204.33 87.88,203.78 86.61,203.25 85.33,202.76 84.04,202.30 82.73,201.88 81.42,201.48 80.09,201.12 78.76,200.80 77.42,200.50 76.08,200.25 74.72,200.02 74.30,199.96 73.88,200.02 72.52,200.25 71.18,200.50 69.84,200.80 68.51,201.12 67.18,201.48 65.87,201.88 64.56,202.30 63.27,202.76 61.99,203.25 60.72,203.78 59.46,204.33 58.21,204.92 56.98,205.54 55.77,206.19 54.57,206.87 53.39,207.58 52.22,208.32 51.07,209.09 49.94,209.89 48.83,210.72 47.75,211.57 46.68,212.45 45.63,213.36 44.60,214.30 43.60,215.26 42.62,216.24 41.67,217.25 40.73,218.29 39.83,219.34 38.95,220.42 38.09,221.52 37.26,222.65 36.46,223.79 35.68,224.95 34.94,226.14 34.22,227.34 33.53,228.56 32.87,229.79 32.24,231.05 31.64,232.32 31.07,233.60 30.53,234.90 30.02,236.21 29.55,237.53 29.10,238.86 28.69,240.21 28.31,241.56 27.96,242.93 27.64,244.30 27.36,245.68 27.11,247.07 26.89,248.46 26.83,248.90Z" fill="#888888" fill-rule="evenodd"/>
<text x="8.4" y="191.0" font-family='"Liberation Sans", Arial, sans-serif' font-size="11.6" fill="#fff" stroke="#fff" stroke-width="0.2">(d)</text>
<rect x="167.0" y="10.7" width="137.2" height="140.20000000000002" fill="#4222ac"/>
<defs><radialGradient id="gb" gradientUnits="userSpaceOnUse" cx="0" cy="0" r="1"><stop offset="0.0000" stop-color="#4222ac"/><stop offset="0.0167" stop-color="#4222ac"/><stop offset="0.0333" stop-color="#4222ac"/><stop offset="0.0500" stop-color="#4222ac"/><stop offset="0.0667" stop-color="#4222ac"/><stop offset="0.0833" stop-color="#4222ac"/><stop offset="0.1000" stop-color="#4222ac"/><stop offset="0.1167" stop-color="#4222ac"/><stop offset="0.1333" stop-color="#4222ac"/><stop offset="0.1500" stop-color="#4222ac"/><stop offset="0.1667" stop-color="#4222ac"/><stop offset="0.1833" stop-color="#4222ac"/><stop offset="0.2000" stop-color="#4222ac"/><stop offset="0.2167" stop-color="#4222ad"/><stop offset="0.2333" stop-color="#4222ad"/><stop offset="0.2500" stop-color="#4222ad"/><stop offset="0.2667" stop-color="#4223ae"/><stop offset="0.2833" stop-color="#4223ae"/><stop offset="0.3000" stop-color="#4323af"/><stop offset="0.3167" stop-color="#4323af"/><stop offset="0.3333" stop-color="#4324b0"/><stop offset="0.3500" stop-color="#4324b1"/><stop offset="0.3667" stop-color="#4325b2"/><stop offset="0.3833" stop-color="#4425b4"/><stop offset="0.4000" stop-color="#4426b5"/><stop offset="0.4167" stop-color="#4427b7"/><stop offset="0.4333" stop-color="#4527ba"/><stop offset="0.4500" stop-color="#4528bc"/><stop offset="0.4667" stop-color="#462abf"/><stop offset="0.4833" stop-color="#462bc2"/><stop offset="0.5000" stop-color="#462dc5"/><stop offset="0.5167" stop-color="#4630c9"/><stop offset="0.5333" stop-color="#4632ce"/><stop offset="0.5500" stop-color="#4735d2"/><stop offset="0.5667" stop-color="#4738d8"/><stop offset="0.5833" stop-color="#473cde"/><stop offset="0.6000" stop-color="#4740e3"/><stop offset="0.6167" stop-color="#4545e7"/><stop offset="0.6333" stop-color="#444aec"/><stop offset="0.6500" stop-color="#4350f1"/><stop offset="0.6667" stop-color="#4057f6"/><stop offset="0.6833" stop-color="#3a60f8"/><stop offset="0.7000" stop-color="#3369fa"/><stop offset="0.7167" stop-color="#2b73fb"/><stop offset="0.7333" stop-color="#237df7"/><stop offset="0.7500" stop-color="#1b88f3"/><stop offset="0.7667" stop-color="#1093ee"/><stop offset="0.7833" stop-color="#05a0e8"/><stop offset="0.8000" stop-color="#02aada"/><stop offset="0.8167" stop-color="#00b4c8"/><stop offset="0.8333" stop-color="#00bab1"/><stop offset="0.8500" stop-color="#00be99"/><stop offset="0.8667" stop-color="#03c283"/><stop offset="0.8833" stop-color="#12c66b"/><stop offset="0.9000" stop-color="#71cc42"/><stop offset="0.9167" stop-color="#e1c81e"/><stop offset="0.9333" stop-color="#fbba29"/><stop offset="0.9500" stop-color="#ffc71d"/><stop offset="0.9667" stop-color="#fedd0f"/><stop offset="0.9833" stop-color="#f8f419"/><stop offset="1.0000" stop-color="#f8f519"/></radialGradient></defs>
<g transform="translate(235.6,81.2) scale(55.3,56.5)"><circle cx="0" cy="0" r="1" fill="url(#gb)"/></g>
<defs><linearGradient id="cbb" x1="0" y1="1" x2="0" y2="0"><stop offset="0.0000" stop-color="#4222ac"/><stop offset="0.0156" stop-color="#4425b4"/><stop offset="0.0312" stop-color="#4529bd"/><stop offset="0.0469" stop-color="#462dc5"/><stop offset="0.0625" stop-color="#4632cd"/><stop offset="0.0781" stop-color="#4737d5"/><stop offset="0.0938" stop-color="#473bdd"/><stop offset="0.1094" stop-color="#4641e3"/><stop offset="0.1250" stop-color="#4546e8"/><stop offset="0.1406" stop-color="#444bed"/><stop offset="0.1562" stop-color="#4351f1"/><stop offset="0.1719" stop-color="#4157f5"/><stop offset="0.1875" stop-color="#3c5df7"/><stop offset="0.2031" stop-color="#3763f9"/><stop offset="0.2188" stop-color="#326afa"/><stop offset="0.2344" stop-color="#2d70fc"/><stop offset="0.2500" stop-color="#2876fa"/><stop offset="0.2656" stop-color="#237cf7"/><stop offset="0.2812" stop-color="#1f83f5"/><stop offset="0.2969" stop-color="#1a89f2"/><stop offset="0.3125" stop-color="#158ff0"/><stop offset="0.3281" stop-color="#1094ed"/><stop offset="0.3438" stop-color="#0a9aeb"/><stop offset="0.3594" stop-color="#05a0e8"/><stop offset="0.3750" stop-color="#03a4e2"/><stop offset="0.3906" stop-color="#02a9dc"/><stop offset="0.4062" stop-color="#00aed6"/><stop offset="0.4219" stop-color="#00b1ce"/><stop offset="0.4375" stop-color="#00b4c5"/><stop offset="0.4531" stop-color="#00b8bd"/><stop offset="0.4688" stop-color="#00bab4"/><stop offset="0.4844" stop-color="#00bbab"/><stop offset="0.5000" stop-color="#00bca3"/><stop offset="0.5156" stop-color="#00be9a"/><stop offset="0.5312" stop-color="#01bf92"/><stop offset="0.5469" stop-color="#02c08b"/><stop offset="0.5625" stop-color="#03c284"/><stop offset="0.5781" stop-color="#04c37d"/><stop offset="0.5938" stop-color="#08c475"/><stop offset="0.6094" stop-color="#0fc56e"/><stop offset="0.6250" stop-color="#1ac666"/><stop offset="0.6406" stop-color="#2fc75c"/><stop offset="0.6562" stop-color="#4bc950"/><stop offset="0.6719" stop-color="#76cc40"/><stop offset="0.6875" stop-color="#9ccd32"/><stop offset="0.7031" stop-color="#becc27"/><stop offset="0.7188" stop-color="#d5ca21"/><stop offset="0.7344" stop-color="#e6c61f"/><stop offset="0.7500" stop-color="#f0c222"/><stop offset="0.7656" stop-color="#f7bd26"/><stop offset="0.7812" stop-color="#fab92a"/><stop offset="0.7969" stop-color="#fcbb28"/><stop offset="0.8125" stop-color="#fdbd26"/><stop offset="0.8281" stop-color="#febf24"/><stop offset="0.8438" stop-color="#ffc320"/><stop offset="0.8594" stop-color="#ffc81c"/><stop offset="0.8750" stop-color="#ffce17"/><stop offset="0.8906" stop-color="#ffd313"/><stop offset="0.9062" stop-color="#ffd80f"/><stop offset="0.9219" stop-color="#fedd0f"/><stop offset="0.9375" stop-color="#fde10f"/><stop offset="0.9531" stop-color="#fce60f"/><stop offset="0.9688" stop-color="#fbeb11"/><stop offset="0.9844" stop-color="#faf015"/><stop offset="1.0000" stop-color="#f8f519"/></linearGradient></defs>
<rect x="318.6" y="11.3" width="7.0" height="139.7" fill="url(#cbb)" stroke="#444" stroke-width="0.3"/>
<g font-family='"Liberation Sans", Arial, sans-serif' font-size="4.95" fill="#383838">
<text x="235.6" y="8.20" text-anchor="middle" font-size="6.05" fill="#333" stroke="#333" stroke-width="0">Fitted wavefront</text>
<text x="164.6" y="13.45" text-anchor="end">1</text>
<text x="164.6" y="27.47" text-anchor="end">0.8</text>
<text x="164.6" y="41.49" text-anchor="end">0.6</text>
<text x="164.6" y="55.51" text-anchor="end">0.4</text>
<text x="164.6" y="69.53" text-anchor="end">0.2</text>
<text x="164.6" y="83.55" text-anchor="end">0</text>
<text x="164.6" y="97.57" text-anchor="end">-0.2</text>
<text x="164.6" y="111.59" text-anchor="end">-0.4</text>
<text x="164.6" y="125.61" text-anchor="end">-0.6</text>
<text x="164.6" y="139.63" text-anchor="end">-0.8</text>
<text x="164.6" y="153.65" text-anchor="end">-1</text>
<text x="167.00" y="159.25" text-anchor="middle">-1</text>
<text x="201.30" y="159.25" text-anchor="middle">-0.5</text>
<text x="235.60" y="159.25" text-anchor="middle">0</text>
<text x="269.90" y="159.25" text-anchor="middle">0.5</text>
<text x="304.20" y="159.25" text-anchor="middle">1</text>
<text x="235.6" y="166.70" text-anchor="middle" font-size="5.3500000000000005">x(cm)</text>
<text transform="translate(153.5,80.8) rotate(-90)" text-anchor="middle" font-size="5.8500000000000005">y(cm)</text>
<text x="327.8" y="152.90">0</text>
<rect x="324.40000000000003" y="150.80" width="1.2" height="0.4" fill="#333"/>
<text x="327.8" y="124.16">0.5</text>
<rect x="324.40000000000003" y="122.06" width="1.2" height="0.4" fill="#333"/>
<text x="327.8" y="95.41">1</text>
<rect x="324.40000000000003" y="93.31" width="1.2" height="0.4" fill="#333"/>
<text x="327.8" y="66.67">1.5</text>
<rect x="324.40000000000003" y="64.57" width="1.2" height="0.4" fill="#333"/>
<text x="327.8" y="37.92">2</text>
<rect x="324.40000000000003" y="35.82" width="1.2" height="0.4" fill="#333"/>
</g>
<text transform="translate(341.6,84.3) rotate(-90)" text-anchor="middle" font-family='"Liberation Serif", "Times New Roman", serif' font-size="7.2" font-weight="bold" fill="#33333c">wavelength</text>
<text x="171.3" y="24.9" font-family='"Liberation Sans", Arial, sans-serif' font-size="11.6" fill="#fff" stroke="#fff" stroke-width="0.2">(b)</text>
<rect x="167.0" y="178.8" width="137.0" height="140.59999999999997" fill="#4222ac"/>
<defs><radialGradient id="ge" gradientUnits="userSpaceOnUse" cx="0" cy="0" r="1"><stop offset="0.0000" stop-color="#4222ac"/><stop offset="0.0167" stop-color="#4222ac"/><stop offset="0.0333" stop-color="#4222ac"/><stop offset="0.0500" stop-color="#4222ac"/><stop offset="0.0667" stop-color="#4222ac"/><stop offset="0.0833" stop-color="#4222ac"/><stop offset="0.1000" stop-color="#4222ac"/><stop offset="0.1167" stop-color="#4222ac"/><stop offset="0.1333" stop-color="#4222ac"/><stop offset="0.1500" stop-color="#4222ac"/><stop offset="0.1667" stop-color="#4222ac"/><stop offset="0.1833" stop-color="#4222ac"/><stop offset="0.2000" stop-color="#4222ac"/><stop offset="0.2167" stop-color="#4222ad"/><stop offset="0.2333" stop-color="#4222ad"/><stop offset="0.2500" stop-color="#4222ad"/><stop offset="0.2667" stop-color="#4223ae"/><stop offset="0.2833" stop-color="#4223ae"/><stop offset="0.3000" stop-color="#4323af"/><stop offset="0.3167" stop-color="#4323af"/><stop offset="0.3333" stop-color="#4324b0"/><stop offset="0.3500" stop-color="#4324b1"/><stop offset="0.3667" stop-color="#4325b2"/><stop offset="0.3833" stop-color="#4425b4"/><stop offset="0.4000" stop-color="#4426b5"/><stop offset="0.4167" stop-color="#4427b7"/><stop offset="0.4333" stop-color="#4527ba"/><stop offset="0.4500" stop-color="#4528bc"/><stop offset="0.4667" stop-color="#462abf"/><stop offset="0.4833" stop-color="#462bc2"/><stop offset="0.5000" stop-color="#462dc5"/><stop offset="0.5167" stop-color="#4630c9"/><stop offset="0.5333" stop-color="#4632ce"/><stop offset="0.5500" stop-color="#4735d2"/><stop offset="0.5667" stop-color="#4738d8"/><stop offset="0.5833" stop-color="#473cde"/><stop offset="0.6000" stop-color="#4740e3"/><stop offset="0.6167" stop-color="#4545e7"/><stop offset="0.6333" stop-color="#444aec"/><stop offset="0.6500" stop-color="#4350f1"/><stop offset="0.6667" stop-color="#4057f6"/><stop offset="0.6833" stop-color="#3a60f8"/><stop offset="0.7000" stop-color="#3369fa"/><stop offset="0.7167" stop-color="#2b73fb"/><stop offset="0.7333" stop-color="#237df7"/><stop offset="0.7500" stop-color="#1b88f3"/><stop offset="0.7667" stop-color="#1093ee"/><stop offset="0.7833" stop-color="#05a0e8"/><stop offset="0.8000" stop-color="#02aada"/><stop offset="0.8167" stop-color="#00b4c8"/><stop offset="0.8333" stop-color="#00bab1"/><stop offset="0.8500" stop-color="#00be99"/><stop offset="0.8667" stop-color="#03c283"/><stop offset="0.8833" stop-color="#12c66b"/><stop offset="0.9000" stop-color="#71cc42"/><stop offset="0.9167" stop-color="#e1c81e"/><stop offset="0.9333" stop-color="#fbba29"/><stop offset="0.9500" stop-color="#ffc71d"/><stop offset="0.9667" stop-color="#fedd0f"/><stop offset="0.9833" stop-color="#f8f419"/><stop offset="1.0000" stop-color="#f8f519"/></radialGradient></defs>
<g transform="translate(235.5,249.4) scale(55.3,56.6)"><circle cx="0" cy="0" r="1" fill="url(#ge)"/></g>
<defs><linearGradient id="cbe" x1="0" y1="1" x2="0" y2="0"><stop offset="0.0000" stop-color="#4222ac"/><stop offset="0.0156" stop-color="#4425b4"/><stop offset="0.0312" stop-color="#4529bd"/><stop offset="0.0469" stop-color="#462dc5"/><stop offset="0.0625" stop-color="#4632cd"/><stop offset="0.0781" stop-color="#4737d5"/><stop offset="0.0938" stop-color="#473bdd"/><stop offset="0.1094" stop-color="#4641e3"/><stop offset="0.1250" stop-color="#4546e8"/><stop offset="0.1406" stop-color="#444bed"/><stop offset="0.1562" stop-color="#4351f1"/><stop offset="0.1719" stop-color="#4157f5"/><stop offset="0.1875" stop-color="#3c5df7"/><stop offset="0.2031" stop-color="#3763f9"/><stop offset="0.2188" stop-color="#326afa"/><stop offset="0.2344" stop-color="#2d70fc"/><stop offset="0.2500" stop-color="#2876fa"/><stop offset="0.2656" stop-color="#237cf7"/><stop offset="0.2812" stop-color="#1f83f5"/><stop offset="0.2969" stop-color="#1a89f2"/><stop offset="0.3125" stop-color="#158ff0"/><stop offset="0.3281" stop-color="#1094ed"/><stop offset="0.3438" stop-color="#0a9aeb"/><stop offset="0.3594" stop-color="#05a0e8"/><stop offset="0.3750" stop-color="#03a4e2"/><stop offset="0.3906" stop-color="#02a9dc"/><stop offset="0.4062" stop-color="#00aed6"/><stop offset="0.4219" stop-color="#00b1ce"/><stop offset="0.4375" stop-color="#00b4c5"/><stop offset="0.4531" stop-color="#00b8bd"/><stop offset="0.4688" stop-color="#00bab4"/><stop offset="0.4844" stop-color="#00bbab"/><stop offset="0.5000" stop-color="#00bca3"/><stop offset="0.5156" stop-color="#00be9a"/><stop offset="0.5312" stop-color="#01bf92"/><stop offset="0.5469" stop-color="#02c08b"/><stop offset="0.5625" stop-color="#03c284"/><stop offset="0.5781" stop-color="#04c37d"/><stop offset="0.5938" stop-color="#08c475"/><stop offset="0.6094" stop-color="#0fc56e"/><stop offset="0.6250" stop-color="#1ac666"/><stop offset="0.6406" stop-color="#2fc75c"/><stop offset="0.6562" stop-color="#4bc950"/><stop offset="0.6719" stop-color="#76cc40"/><stop offset="0.6875" stop-color="#9ccd32"/><stop offset="0.7031" stop-color="#becc27"/><stop offset="0.7188" stop-color="#d5ca21"/><stop offset="0.7344" stop-color="#e6c61f"/><stop offset="0.7500" stop-color="#f0c222"/><stop offset="0.7656" stop-color="#f7bd26"/><stop offset="0.7812" stop-color="#fab92a"/><stop offset="0.7969" stop-color="#fcbb28"/><stop offset="0.8125" stop-color="#fdbd26"/><stop offset="0.8281" stop-color="#febf24"/><stop offset="0.8438" stop-color="#ffc320"/><stop offset="0.8594" stop-color="#ffc81c"/><stop offset="0.8750" stop-color="#ffce17"/><stop offset="0.8906" stop-color="#ffd313"/><stop offset="0.9062" stop-color="#ffd80f"/><stop offset="0.9219" stop-color="#fedd0f"/><stop offset="0.9375" stop-color="#fde10f"/><stop offset="0.9531" stop-color="#fce60f"/><stop offset="0.9688" stop-color="#fbeb11"/><stop offset="0.9844" stop-color="#faf015"/><stop offset="1.0000" stop-color="#f8f519"/></linearGradient></defs>
<rect x="318.2" y="179.2" width="7.0" height="140.40000000000003" fill="url(#cbe)" stroke="#444" stroke-width="0.3"/>
<g font-family='"Liberation Sans", Arial, sans-serif' font-size="4.95" fill="#383838">
<text x="235.5" y="176.30" text-anchor="middle" font-size="6.05" fill="#333" stroke="#333" stroke-width="0">Fitted wavefront</text>
<text x="164.6" y="181.55" text-anchor="end">1</text>
<text x="164.6" y="195.61" text-anchor="end">0.8</text>
<text x="164.6" y="209.67" text-anchor="end">0.6</text>
<text x="164.6" y="223.73" text-anchor="end">0.4</text>
<text x="164.6" y="237.79" text-anchor="end">0.2</text>
<text x="164.6" y="251.85" text-anchor="end">0</text>
<text x="164.6" y="265.91" text-anchor="end">-0.2</text>
<text x="164.6" y="279.97" text-anchor="end">-0.4</text>
<text x="164.6" y="294.03" text-anchor="end">-0.6</text>
<text x="164.6" y="308.09" text-anchor="end">-0.8</text>
<text x="164.6" y="322.15" text-anchor="end">-1</text>
<text x="167.00" y="327.75" text-anchor="middle">-1</text>
<text x="201.25" y="327.75" text-anchor="middle">-0.5</text>
<text x="235.50" y="327.75" text-anchor="middle">0</text>
<text x="269.75" y="327.75" text-anchor="middle">0.5</text>
<text x="304.00" y="327.75" text-anchor="middle">1</text>
<text x="235.5" y="335.20" text-anchor="middle" font-size="5.3500000000000005">x(cm)</text>
<text transform="translate(153.5,249.1) rotate(-90)" text-anchor="middle" font-size="5.8500000000000005">y(cm)</text>
<text x="327.4" y="321.50">0</text>
<rect x="324.0" y="319.40" width="1.2" height="0.4" fill="#333"/>
<text x="327.4" y="292.61">0.5</text>
<rect x="324.0" y="290.51" width="1.2" height="0.4" fill="#333"/>
<text x="327.4" y="263.72">1</text>
<rect x="324.0" y="261.62" width="1.2" height="0.4" fill="#333"/>
<text x="327.4" y="234.83">1.5</text>
<rect x="324.0" y="232.73" width="1.2" height="0.4" fill="#333"/>
<text x="327.4" y="205.94">2</text>
<rect x="324.0" y="203.84" width="1.2" height="0.4" fill="#333"/>
</g>
<text transform="translate(339.6,253.7) rotate(-90)" text-anchor="middle" font-family='"Liberation Serif", "Times New Roman", serif' font-size="7.2" font-weight="bold" fill="#33333c">wavelength</text>
<text x="171.3" y="192.5" font-family='"Liberation Sans", Arial, sans-serif' font-size="11.6" fill="#fff" stroke="#fff" stroke-width="0.2">(e)</text>
<rect x="367.2" y="10.7" width="141.40000000000003" height="140.20000000000002" fill="#00b1cf"/>
<defs><radialGradient id="gc1" gradientUnits="userSpaceOnUse" cx="437.9" cy="81.1" r="56.8"><stop offset="0.0000" stop-color="#fab92a"/><stop offset="0.0088" stop-color="#fab92a"/><stop offset="0.0176" stop-color="#fab92a"/><stop offset="0.0264" stop-color="#fab92a"/><stop offset="0.0352" stop-color="#fab92a"/><stop offset="0.0440" stop-color="#fab92a"/><stop offset="0.0528" stop-color="#fab92a"/><stop offset="0.0616" stop-color="#fab92a"/><stop offset="0.0704" stop-color="#fab92a"/><stop offset="0.0792" stop-color="#fab92a"/><stop offset="0.0880" stop-color="#fab92a"/><stop offset="0.0968" stop-color="#fab92a"/><stop offset="0.1056" stop-color="#fab92a"/><stop offset="0.1144" stop-color="#fab92a"/><stop offset="0.1232" stop-color="#fab92a"/><stop offset="0.1320" stop-color="#fab92a"/><stop offset="0.1408" stop-color="#fab92a"/><stop offset="0.1496" stop-color="#fab92a"/><stop offset="0.1585" stop-color="#fab92a"/><stop offset="0.1673" stop-color="#fab92a"/><stop offset="0.1761" stop-color="#fab92a"/><stop offset="0.1849" stop-color="#fab92a"/><stop offset="0.1937" stop-color="#fab92a"/><stop offset="0.2025" stop-color="#fab92a"/><stop offset="0.2113" stop-color="#fab92a"/><stop offset="0.2201" stop-color="#fab92a"/><stop offset="0.2289" stop-color="#fab92a"/><stop offset="0.2377" stop-color="#fab92a"/><stop offset="0.2465" stop-color="#fab92a"/><stop offset="0.2553" stop-color="#fab92a"/><stop offset="0.2641" stop-color="#fab92a"/><stop offset="0.2729" stop-color="#fab92a"/><stop offset="0.2817" stop-color="#fab92a"/><stop offset="0.2905" stop-color="#fab92a"/><stop offset="0.2993" stop-color="#fab92a"/><stop offset="0.3081" stop-color="#fab92a"/><stop offset="0.3169" stop-color="#fab92a"/><stop offset="0.3257" stop-color="#fab92a"/><stop offset="0.3345" stop-color="#fab92a"/><stop offset="0.3433" stop-color="#fab92a"/><stop offset="0.3521" stop-color="#fab92a"/><stop offset="0.3609" stop-color="#fab92a"/><stop offset="0.3697" stop-color="#fab92a"/><stop offset="0.3785" stop-color="#fab92a"/><stop offset="0.3873" stop-color="#fab92a"/><stop offset="0.3961" stop-color="#fab92a"/><stop offset="0.4049" stop-color="#fab92a"/><stop offset="0.4137" stop-color="#fab92a"/><stop offset="0.4225" stop-color="#fab92a"/><stop offset="0.4313" stop-color="#fab92a"/><stop offset="0.4401" stop-color="#fab92a"/><stop offset="0.4489" stop-color="#fab92a"/><stop offset="0.4577" stop-color="#fab92a"/><stop offset="0.4665" stop-color="#fab92a"/><stop offset="0.4754" stop-color="#fab92a"/><stop offset="0.4842" stop-color="#fab92a"/><stop offset="0.4930" stop-color="#fab92a"/><stop offset="0.5018" stop-color="#fab92a"/><stop offset="0.5106" stop-color="#fab92a"/><stop offset="0.5194" stop-color="#fab92a"/><stop offset="0.5282" stop-color="#fab92a"/><stop offset="0.5370" stop-color="#fab92a"/><stop offset="0.5458" stop-color="#fab92a"/><stop offset="0.5546" stop-color="#fab92a"/><stop offset="0.5634" stop-color="#fab92a"/><stop offset="0.5722" stop-color="#fab92a"/><stop offset="0.5810" stop-color="#fab92a"/><stop offset="0.5898" stop-color="#fab92a"/><stop offset="0.5986" stop-color="#fab92a"/><stop offset="0.6074" stop-color="#fab92a"/><stop offset="0.6162" stop-color="#fab92a"/><stop offset="0.6250" stop-color="#fab92a"/><stop offset="0.6338" stop-color="#fab92a"/><stop offset="0.6426" stop-color="#fab92a"/><stop offset="0.6514" stop-color="#fab92a"/><stop offset="0.6602" stop-color="#fab92a"/><stop offset="0.6690" stop-color="#fab92a"/><stop offset="0.6778" stop-color="#fab92a"/><stop offset="0.6866" stop-color="#fab92a"/><stop offset="0.6954" stop-color="#fab92a"/><stop offset="0.7042" stop-color="#fab92a"/><stop offset="0.7130" stop-color="#fab92a"/><stop offset="0.7218" stop-color="#fab92a"/><stop offset="0.7306" stop-color="#fab92a"/><stop offset="0.7394" stop-color="#fab92a"/><stop offset="0.7482" stop-color="#fab92a"/><stop offset="0.7570" stop-color="#fab92a"/><stop offset="0.7658" stop-color="#fab92a"/><stop offset="0.7746" stop-color="#fab92a"/><stop offset="0.7835" stop-color="#fab92a"/><stop offset="0.7923" stop-color="#fab92a"/><stop offset="0.8011" stop-color="#fab92a"/><stop offset="0.8099" stop-color="#fab92a"/><stop offset="0.8187" stop-color="#fab92a"/><stop offset="0.8275" stop-color="#fab92a"/><stop offset="0.8363" stop-color="#fab92a"/><stop offset="0.8451" stop-color="#fab92a"/><stop offset="0.8539" stop-color="#fab92a"/><stop offset="0.8627" stop-color="#fab92a"/><stop offset="0.8715" stop-color="#faba29"/><stop offset="0.8803" stop-color="#fbba29"/><stop offset="0.8891" stop-color="#fbba29"/><stop offset="0.8979" stop-color="#fbba29"/><stop offset="0.9067" stop-color="#fbba29"/><stop offset="0.9155" stop-color="#fbba29"/><stop offset="0.9243" stop-color="#fbba29"/><stop offset="0.9331" stop-color="#fcbb28"/><stop offset="0.9419" stop-color="#fcbc27"/><stop offset="0.9507" stop-color="#fdbe25"/><stop offset="0.9595" stop-color="#ffbf24"/><stop offset="0.9683" stop-color="#ffc61e"/><stop offset="0.9771" stop-color="#ffc91b"/><stop offset="0.9859" stop-color="#04a3e4"/><stop offset="0.9947" stop-color="#01acd7"/><stop offset="1.0000" stop-color="#00b1cf"/></radialGradient><radialGradient id="gc2" gradientUnits="userSpaceOnUse" cx="0" cy="0" r="1"><stop offset="0.0000" stop-color="#00b5c4"/><stop offset="0.0100" stop-color="#00b5c4"/><stop offset="0.0200" stop-color="#00b5c4"/><stop offset="0.0300" stop-color="#00b5c4"/><stop offset="0.0400" stop-color="#00b5c4"/><stop offset="0.0500" stop-color="#00b5c4"/><stop offset="0.0600" stop-color="#00b5c4"/><stop offset="0.0700" stop-color="#00b5c4"/><stop offset="0.0800" stop-color="#00b5c4"/><stop offset="0.0900" stop-color="#00b5c4"/><stop offset="0.1000" stop-color="#00b5c4"/><stop offset="0.1100" stop-color="#00b5c4"/><stop offset="0.1200" stop-color="#00b5c4"/><stop offset="0.1300" stop-color="#00b5c4"/><stop offset="0.1400" stop-color="#00b5c4"/><stop offset="0.1500" stop-color="#00b5c4"/><stop offset="0.1600" stop-color="#00b5c4"/><stop offset="0.1700" stop-color="#00b5c4"/><stop offset="0.1800" stop-color="#00b5c4"/><stop offset="0.1900" stop-color="#00b5c4"/><stop offset="0.2000" stop-color="#00b5c4"/><stop offset="0.2100" stop-color="#00b5c4"/><stop offset="0.2200" stop-color="#00b5c4"/><stop offset="0.2300" stop-color="#00b5c4"/><stop offset="0.2400" stop-color="#00b5c4"/><stop offset="0.2500" stop-color="#00b5c4"/><stop offset="0.2600" stop-color="#00b5c4"/><stop offset="0.2700" stop-color="#00b5c4"/><stop offset="0.2800" stop-color="#00b5c4"/><stop offset="0.2900" stop-color="#00b5c4"/><stop offset="0.3000" stop-color="#00b5c4"/><stop offset="0.3100" stop-color="#00b5c4"/><stop offset="0.3200" stop-color="#00b5c4"/><stop offset="0.3300" stop-color="#00b5c4"/><stop offset="0.3400" stop-color="#00b5c4"/><stop offset="0.3500" stop-color="#00b5c4"/><stop offset="0.3600" stop-color="#00b5c4"/><stop offset="0.3700" stop-color="#00b5c4"/><stop offset="0.3800" stop-color="#00b5c4"/><stop offset="0.3900" stop-color="#00b5c4"/><stop offset="0.4000" stop-color="#00b5c4"/><stop offset="0.4100" stop-color="#00b5c4"/><stop offset="0.4200" stop-color="#00b5c4"/><stop offset="0.4300" stop-color="#00b5c4"/><stop offset="0.4400" stop-color="#00b5c4"/><stop offset="0.4500" stop-color="#00b5c4"/><stop offset="0.4600" stop-color="#00b5c4"/><stop offset="0.4700" stop-color="#00b5c4"/><stop offset="0.4800" stop-color="#00b5c4"/><stop offset="0.4900" stop-color="#00b5c4"/><stop offset="0.5000" stop-color="#00b5c4"/><stop offset="0.5100" stop-color="#00b5c4"/><stop offset="0.5200" stop-color="#00b5c4"/><stop offset="0.5300" stop-color="#00b5c4"/><stop offset="0.5400" stop-color="#00b5c4"/><stop offset="0.5500" stop-color="#00b5c4"/><stop offset="0.5600" stop-color="#00b5c4"/><stop offset="0.5700" stop-color="#00b5c4"/><stop offset="0.5800" stop-color="#00b5c4"/><stop offset="0.5900" stop-color="#00b5c4"/><stop offset="0.6000" stop-color="#00b5c4"/><stop offset="0.6100" stop-color="#00b5c4"/><stop offset="0.6200" stop-color="#00b5c4"/><stop offset="0.6300" stop-color="#00b5c4"/><stop offset="0.6400" stop-color="#00b5c4"/><stop offset="0.6500" stop-color="#00b5c4"/><stop offset="0.6600" stop-color="#00b5c4"/><stop offset="0.6700" stop-color="#00b5c4"/><stop offset="0.6800" stop-color="#00b5c4"/><stop offset="0.6900" stop-color="#00b5c4"/><stop offset="0.7000" stop-color="#00b5c4"/><stop offset="0.7100" stop-color="#00b5c4"/><stop offset="0.7200" stop-color="#00b5c4"/><stop offset="0.7300" stop-color="#00b5c4"/><stop offset="0.7400" stop-color="#00b5c4"/><stop offset="0.7500" stop-color="#00b5c4"/><stop offset="0.7600" stop-color="#00b5c4"/><stop offset="0.7700" stop-color="#00b5c4"/><stop offset="0.7800" stop-color="#00b5c4"/><stop offset="0.7900" stop-color="#00b5c4"/><stop offset="0.8000" stop-color="#00b5c4"/><stop offset="0.8100" stop-color="#00b5c4"/><stop offset="0.8200" stop-color="#00b5c4"/><stop offset="0.8300" stop-color="#00b5c4"/><stop offset="0.8400" stop-color="#00b5c4"/><stop offset="0.8500" stop-color="#00b5c4"/><stop offset="0.8600" stop-color="#00b5c4"/><stop offset="0.8700" stop-color="#00b5c4"/><stop offset="0.8800" stop-color="#00b5c4"/><stop offset="0.8900" stop-color="#00b5c4"/><stop offset="0.9000" stop-color="#00b5c4"/><stop offset="0.9100" stop-color="#00b2cb"/><stop offset="0.9200" stop-color="#00b0d2"/><stop offset="0.9300" stop-color="#01acd8"/><stop offset="0.9400" stop-color="#01acd8"/><stop offset="0.9500" stop-color="#01acd8"/><stop offset="0.9600" stop-color="#01acd8"/><stop offset="0.9700" stop-color="#01acd8"/><stop offset="0.9800" stop-color="#00bbac"/><stop offset="0.9900" stop-color="#33c85a"/><stop offset="1.0000" stop-color="#fab92a"/></radialGradient><radialGradient id="gc3" gradientUnits="userSpaceOnUse" cx="437.9" cy="81.1" r="46.5"><stop offset="0.0000" stop-color="#00b1cf"/><stop offset="0.0108" stop-color="#00b2cd"/><stop offset="0.0215" stop-color="#00b2cc"/><stop offset="0.0323" stop-color="#00b2cb"/><stop offset="0.0430" stop-color="#00b3c9"/><stop offset="0.0538" stop-color="#00b6c0"/><stop offset="0.0645" stop-color="#00b9b6"/><stop offset="0.0753" stop-color="#00bbac"/><stop offset="0.0860" stop-color="#00bca3"/><stop offset="0.0968" stop-color="#00be9a"/><stop offset="0.1075" stop-color="#01bf92"/><stop offset="0.1183" stop-color="#02c18a"/><stop offset="0.1290" stop-color="#03c283"/><stop offset="0.1398" stop-color="#04c37c"/><stop offset="0.1505" stop-color="#08c475"/><stop offset="0.1613" stop-color="#0fc56e"/><stop offset="0.1720" stop-color="#1ac666"/><stop offset="0.1828" stop-color="#2cc75d"/><stop offset="0.1935" stop-color="#40c853"/><stop offset="0.2043" stop-color="#67cb46"/><stop offset="0.2151" stop-color="#8bcd39"/><stop offset="0.2258" stop-color="#a8cd2e"/><stop offset="0.2366" stop-color="#c0cc26"/><stop offset="0.2473" stop-color="#d3ca22"/><stop offset="0.2581" stop-color="#e3c71e"/><stop offset="0.2688" stop-color="#e8c520"/><stop offset="0.2796" stop-color="#eec321"/><stop offset="0.2903" stop-color="#f3c122"/><stop offset="0.3011" stop-color="#f6be25"/><stop offset="0.3118" stop-color="#f7bd26"/><stop offset="0.3226" stop-color="#f8bd26"/><stop offset="0.3333" stop-color="#f8bc27"/><stop offset="0.3441" stop-color="#f9bb28"/><stop offset="0.3548" stop-color="#f8bc27"/><stop offset="0.3656" stop-color="#f8bd26"/><stop offset="0.3763" stop-color="#f7bd26"/><stop offset="0.3871" stop-color="#f6be25"/><stop offset="0.3978" stop-color="#f3c122"/><stop offset="0.4086" stop-color="#edc321"/><stop offset="0.4194" stop-color="#e7c520"/><stop offset="0.4301" stop-color="#e2c81e"/><stop offset="0.4409" stop-color="#d0ca22"/><stop offset="0.4516" stop-color="#bdcc27"/><stop offset="0.4624" stop-color="#a3cd30"/><stop offset="0.4731" stop-color="#87cd3a"/><stop offset="0.4839" stop-color="#65cb47"/><stop offset="0.4946" stop-color="#42c853"/><stop offset="0.5054" stop-color="#2ec75c"/><stop offset="0.5161" stop-color="#1ec764"/><stop offset="0.5269" stop-color="#16c668"/><stop offset="0.5376" stop-color="#12c66b"/><stop offset="0.5484" stop-color="#0ec56f"/><stop offset="0.5591" stop-color="#0bc572"/><stop offset="0.5699" stop-color="#08c475"/><stop offset="0.5806" stop-color="#0bc572"/><stop offset="0.5914" stop-color="#0ec56f"/><stop offset="0.6022" stop-color="#12c66b"/><stop offset="0.6129" stop-color="#16c668"/><stop offset="0.6237" stop-color="#1ec764"/><stop offset="0.6344" stop-color="#2ec75c"/><stop offset="0.6452" stop-color="#42c853"/><stop offset="0.6559" stop-color="#65cb47"/><stop offset="0.6667" stop-color="#87cd3a"/><stop offset="0.6774" stop-color="#a3cd30"/><stop offset="0.6882" stop-color="#bdcc27"/><stop offset="0.6989" stop-color="#d0ca22"/><stop offset="0.7097" stop-color="#e2c81e"/><stop offset="0.7204" stop-color="#e7c520"/><stop offset="0.7312" stop-color="#edc321"/><stop offset="0.7419" stop-color="#f3c122"/><stop offset="0.7527" stop-color="#f6be25"/><stop offset="0.7634" stop-color="#f7bd26"/><stop offset="0.7742" stop-color="#f8bc27"/><stop offset="0.7849" stop-color="#f9bb28"/><stop offset="0.7957" stop-color="#f8bc27"/><stop offset="0.8065" stop-color="#f7bd26"/><stop offset="0.8172" stop-color="#f6be25"/><stop offset="0.8280" stop-color="#f3c122"/><stop offset="0.8387" stop-color="#edc321"/><stop offset="0.8495" stop-color="#e7c520"/><stop offset="0.8602" stop-color="#e2c81e"/><stop offset="0.8710" stop-color="#ceca23"/><stop offset="0.8817" stop-color="#b8cd28"/><stop offset="0.8925" stop-color="#98cd34"/><stop offset="0.9032" stop-color="#6dcb44"/><stop offset="0.9140" stop-color="#3ac856"/><stop offset="0.9247" stop-color="#21c763"/><stop offset="0.9355" stop-color="#12c66b"/><stop offset="0.9462" stop-color="#0bc572"/><stop offset="0.9570" stop-color="#05c479"/><stop offset="0.9677" stop-color="#02c188"/><stop offset="0.9785" stop-color="#00be98"/><stop offset="0.9892" stop-color="#00bbae"/><stop offset="1.0000" stop-color="#00b5c4"/></radialGradient></defs>
<circle cx="437.9" cy="81.1" r="56.8" fill="url(#gc1)"/>
<g transform="translate(437.9,81.1) scale(51.0,51.0)"><circle cx="0.016" cy="0" r="1" fill="url(#gc2)"/></g>
<circle cx="437.9" cy="81.1" r="46.5" fill="url(#gc3)"/>
<path d="M414.95,31.89A54.3,54.3 0 0 0 386.87,62.53" fill="none" stroke="#fbeb12" stroke-width="1.8" stroke-linecap="round" stroke-opacity="1.0" filter="url(#bl)"/>
<path d="M386.87,99.67A54.3,54.3 0 0 0 414.95,130.31" fill="none" stroke="#fbeb12" stroke-width="1.8" stroke-linecap="round" stroke-opacity="1.0" filter="url(#bl)"/>
<path d="M482.87,112.59A54.9,54.9 0 0 0 482.87,49.61" fill="none" stroke="#fde50f" stroke-width="0.9" stroke-linecap="round" stroke-opacity="1.0" filter="url(#bl)"/>
<defs><linearGradient id="cbc" x1="0" y1="1" x2="0" y2="0"><stop offset="0.0000" stop-color="#4222ac"/><stop offset="0.0156" stop-color="#4425b4"/><stop offset="0.0312" stop-color="#4529bd"/><stop offset="0.0469" stop-color="#462dc5"/><stop offset="0.0625" stop-color="#4632cd"/><stop offset="0.0781" stop-color="#4737d5"/><stop offset="0.0938" stop-color="#473bdd"/><stop offset="0.1094" stop-color="#4641e3"/><stop offset="0.1250" stop-color="#4546e8"/><stop offset="0.1406" stop-color="#444bed"/><stop offset="0.1562" stop-color="#4351f1"/><stop offset="0.1719" stop-color="#4157f5"/><stop offset="0.1875" stop-color="#3c5df7"/><stop offset="0.2031" stop-color="#3763f9"/><stop offset="0.2188" stop-color="#326afa"/><stop offset="0.2344" stop-color="#2d70fc"/><stop offset="0.2500" stop-color="#2876fa"/><stop offset="0.2656" stop-color="#237cf7"/><stop offset="0.2812" stop-color="#1f83f5"/><stop offset="0.2969" stop-color="#1a89f2"/><stop offset="0.3125" stop-color="#158ff0"/><stop offset="0.3281" stop-color="#1094ed"/><stop offset="0.3438" stop-color="#0a9aeb"/><stop offset="0.3594" stop-color="#05a0e8"/><stop offset="0.3750" stop-color="#03a4e2"/><stop offset="0.3906" stop-color="#02a9dc"/><stop offset="0.4062" stop-color="#00aed6"/><stop offset="0.4219" stop-color="#00b1ce"/><stop offset="0.4375" stop-color="#00b4c5"/><stop offset="0.4531" stop-color="#00b8bd"/><stop offset="0.4688" stop-color="#00bab4"/><stop offset="0.4844" stop-color="#00bbab"/><stop offset="0.5000" stop-color="#00bca3"/><stop offset="0.5156" stop-color="#00be9a"/><stop offset="0.5312" stop-color="#01bf92"/><stop offset="0.5469" stop-color="#02c08b"/><stop offset="0.5625" stop-color="#03c284"/><stop offset="0.5781" stop-color="#04c37d"/><stop offset="0.5938" stop-color="#08c475"/><stop offset="0.6094" stop-color="#0fc56e"/><stop offset="0.6250" stop-color="#1ac666"/><stop offset="0.6406" stop-color="#2fc75c"/><stop offset="0.6562" stop-color="#4bc950"/><stop offset="0.6719" stop-color="#76cc40"/><stop offset="0.6875" stop-color="#9ccd32"/><stop offset="0.7031" stop-color="#becc27"/><stop offset="0.7188" stop-color="#d5ca21"/><stop offset="0.7344" stop-color="#e6c61f"/><stop offset="0.7500" stop-color="#f0c222"/><stop offset="0.7656" stop-color="#f7bd26"/><stop offset="0.7812" stop-color="#fab92a"/><stop offset="0.7969" stop-color="#fcbb28"/><stop offset="0.8125" stop-color="#fdbd26"/><stop offset="0.8281" stop-color="#febf24"/><stop offset="0.8438" stop-color="#ffc320"/><stop offset="0.8594" stop-color="#ffc81c"/><stop offset="0.8750" stop-color="#ffce17"/><stop offset="0.8906" stop-color="#ffd313"/><stop offset="0.9062" stop-color="#ffd80f"/><stop offset="0.9219" stop-color="#fedd0f"/><stop offset="0.9375" stop-color="#fde10f"/><stop offset="0.9531" stop-color="#fce60f"/><stop offset="0.9688" stop-color="#fbeb11"/><stop offset="0.9844" stop-color="#faf015"/><stop offset="1.0000" stop-color="#f8f519"/></linearGradient></defs>
<rect x="523.0" y="11.3" width="7.600000000000023" height="139.5" fill="url(#cbc)" stroke="#444" stroke-width="0.3"/>
<g font-family='"Liberation Sans", Arial, sans-serif' font-size="5.25" fill="#262626">
<text x="437.9" y="8.20" text-anchor="middle" font-size="5.75" fill="#111" stroke="#111" stroke-width="0.1">Fitting residual</text>
<text x="364.8" y="13.45" text-anchor="end">1</text>
<text x="364.8" y="27.47" text-anchor="end">0.8</text>
<text x="364.8" y="41.49" text-anchor="end">0.6</text>
<text x="364.8" y="55.51" text-anchor="end">0.4</text>
<text x="364.8" y="69.53" text-anchor="end">0.2</text>
<text x="364.8" y="83.55" text-anchor="end">0</text>
<text x="364.8" y="97.57" text-anchor="end">-0.2</text>
<text x="364.8" y="111.59" text-anchor="end">-0.4</text>
<text x="364.8" y="125.61" text-anchor="end">-0.6</text>
<text x="364.8" y="139.63" text-anchor="end">-0.8</text>
<text x="364.8" y="153.65" text-anchor="end">-1</text>
<text x="367.20" y="159.25" text-anchor="middle">-1</text>
<text x="402.55" y="159.25" text-anchor="middle">-0.5</text>
<text x="437.90" y="159.25" text-anchor="middle">0</text>
<text x="473.25" y="159.25" text-anchor="middle">0.5</text>
<text x="508.60" y="159.25" text-anchor="middle">1</text>
<text x="437.9" y="166.70" text-anchor="middle" font-size="5.65">x(cm)</text>
<text transform="translate(352.5,80.8) rotate(-90)" text-anchor="middle" font-size="6.15">y(cm)</text>
<text x="532.8000000000001" y="152.70">-8</text>
<rect x="529.4" y="150.60" width="1.2" height="0.4" fill="#333"/>
<text x="532.8000000000001" y="137.94">-6</text>
<rect x="529.4" y="135.84" width="1.2" height="0.4" fill="#333"/>
<text x="532.8000000000001" y="123.18">-4</text>
<rect x="529.4" y="121.08" width="1.2" height="0.4" fill="#333"/>
<text x="532.8000000000001" y="108.41">-2</text>
<rect x="529.4" y="106.31" width="1.2" height="0.4" fill="#333"/>
<text x="532.8000000000001" y="93.65">0</text>
<rect x="529.4" y="91.55" width="1.2" height="0.4" fill="#333"/>
<text x="532.8000000000001" y="78.89">2</text>
<rect x="529.4" y="76.79" width="1.2" height="0.4" fill="#333"/>
<text x="532.8000000000001" y="64.13">4</text>
<rect x="529.4" y="62.03" width="1.2" height="0.4" fill="#333"/>
<text x="532.8000000000001" y="49.37">6</text>
<rect x="529.4" y="47.27" width="1.2" height="0.4" fill="#333"/>
<text x="532.8000000000001" y="34.60">8</text>
<rect x="529.4" y="32.50" width="1.2" height="0.4" fill="#333"/>
<text x="532.8000000000001" y="19.84">10</text>
<rect x="529.4" y="17.74" width="1.2" height="0.4" fill="#333"/>
<text x="531.5" y="8.80" fill="#5c6670" font-size="5">×10<tspan dy="-2" font-size="3.6">-5</tspan></text>
</g>
<text transform="translate(545.5,83.0) rotate(-90)" text-anchor="middle" font-family='"Liberation Serif", "Times New Roman", serif' font-size="7.2" font-weight="bold" fill="#33333c">wavelength</text>
<text x="372.5" y="24.5" font-family='"Liberation Sans", Arial, sans-serif' font-size="11.6" fill="#fff" stroke="#fff" stroke-width="0.2">(c)</text>
<rect x="365.5" y="179.6" width="141.89999999999998" height="139.6" fill="#03a4e2"/>
<g transform="translate(437.2,249.5) scale(1.0091,0.9873) translate(-437.2,-249.5)">
<defs><radialGradient id="gf" gradientUnits="userSpaceOnUse" cx="437.2" cy="249.5" r="55.2"><stop offset="0.0000" stop-color="#02a9dc"/><stop offset="0.0091" stop-color="#02aadb"/><stop offset="0.0181" stop-color="#01aada"/><stop offset="0.0272" stop-color="#01abd9"/><stop offset="0.0362" stop-color="#01acd8"/><stop offset="0.0453" stop-color="#00b0d3"/><stop offset="0.0543" stop-color="#00b2cc"/><stop offset="0.0634" stop-color="#00b4c5"/><stop offset="0.0725" stop-color="#00b7be"/><stop offset="0.0815" stop-color="#00bab5"/><stop offset="0.0906" stop-color="#00bbab"/><stop offset="0.0996" stop-color="#00bda1"/><stop offset="0.1087" stop-color="#00be98"/><stop offset="0.1178" stop-color="#02c08e"/><stop offset="0.1268" stop-color="#03c285"/><stop offset="0.1359" stop-color="#04c37c"/><stop offset="0.1449" stop-color="#0bc572"/><stop offset="0.1540" stop-color="#13c66a"/><stop offset="0.1630" stop-color="#27c75f"/><stop offset="0.1721" stop-color="#40c853"/><stop offset="0.1812" stop-color="#71cc42"/><stop offset="0.1902" stop-color="#94cd36"/><stop offset="0.1993" stop-color="#b3cd2a"/><stop offset="0.2083" stop-color="#cacb24"/><stop offset="0.2174" stop-color="#dec81f"/><stop offset="0.2264" stop-color="#e4c71f"/><stop offset="0.2355" stop-color="#e8c520"/><stop offset="0.2446" stop-color="#ecc421"/><stop offset="0.2536" stop-color="#f0c222"/><stop offset="0.2627" stop-color="#f0c222"/><stop offset="0.2717" stop-color="#f0c222"/><stop offset="0.2808" stop-color="#f0c222"/><stop offset="0.2899" stop-color="#f0c222"/><stop offset="0.2989" stop-color="#ecc421"/><stop offset="0.3080" stop-color="#e8c520"/><stop offset="0.3170" stop-color="#e4c71f"/><stop offset="0.3261" stop-color="#dec81f"/><stop offset="0.3351" stop-color="#cdca23"/><stop offset="0.3442" stop-color="#bdcd27"/><stop offset="0.3533" stop-color="#a5cd2f"/><stop offset="0.3623" stop-color="#8bcd39"/><stop offset="0.3714" stop-color="#67cb46"/><stop offset="0.3804" stop-color="#40c853"/><stop offset="0.3895" stop-color="#2cc75d"/><stop offset="0.3986" stop-color="#1ac666"/><stop offset="0.4076" stop-color="#11c66c"/><stop offset="0.4167" stop-color="#0cc571"/><stop offset="0.4257" stop-color="#07c476"/><stop offset="0.4348" stop-color="#04c37c"/><stop offset="0.4438" stop-color="#04c37f"/><stop offset="0.4529" stop-color="#03c283"/><stop offset="0.4620" stop-color="#03c186"/><stop offset="0.4710" stop-color="#02c18a"/><stop offset="0.4801" stop-color="#02c08b"/><stop offset="0.4891" stop-color="#02c08c"/><stop offset="0.4982" stop-color="#02c08d"/><stop offset="0.5072" stop-color="#02c08e"/><stop offset="0.5163" stop-color="#02c18a"/><stop offset="0.5254" stop-color="#03c186"/><stop offset="0.5344" stop-color="#03c282"/><stop offset="0.5435" stop-color="#04c37e"/><stop offset="0.5525" stop-color="#06c477"/><stop offset="0.5616" stop-color="#0dc570"/><stop offset="0.5707" stop-color="#14c669"/><stop offset="0.5797" stop-color="#27c75f"/><stop offset="0.5888" stop-color="#36c858"/><stop offset="0.5978" stop-color="#4ec94f"/><stop offset="0.6069" stop-color="#6ecc43"/><stop offset="0.6159" stop-color="#8bcd39"/><stop offset="0.6250" stop-color="#99cd33"/><stop offset="0.6341" stop-color="#a8cd2e"/><stop offset="0.6431" stop-color="#b6cd29"/><stop offset="0.6522" stop-color="#c0cc26"/><stop offset="0.6612" stop-color="#c0cc26"/><stop offset="0.6703" stop-color="#c0cc26"/><stop offset="0.6793" stop-color="#c0cc26"/><stop offset="0.6884" stop-color="#c0cc26"/><stop offset="0.6975" stop-color="#c0cc26"/><stop offset="0.7065" stop-color="#b3cd2a"/><stop offset="0.7156" stop-color="#a2cd30"/><stop offset="0.7246" stop-color="#91cd37"/><stop offset="0.7337" stop-color="#7fcd3d"/><stop offset="0.7428" stop-color="#54ca4c"/><stop offset="0.7518" stop-color="#34c859"/><stop offset="0.7609" stop-color="#20c763"/><stop offset="0.7699" stop-color="#10c56d"/><stop offset="0.7790" stop-color="#05c478"/><stop offset="0.7880" stop-color="#03c283"/><stop offset="0.7971" stop-color="#02c08e"/><stop offset="0.8062" stop-color="#00be9b"/><stop offset="0.8152" stop-color="#00bbaa"/><stop offset="0.8243" stop-color="#00b9b9"/><stop offset="0.8333" stop-color="#00b4c6"/><stop offset="0.8424" stop-color="#00b0d2"/><stop offset="0.8514" stop-color="#02a9dc"/><stop offset="0.8605" stop-color="#03a7df"/><stop offset="0.8696" stop-color="#04a4e2"/><stop offset="0.8786" stop-color="#04a2e6"/><stop offset="0.8877" stop-color="#069fe8"/><stop offset="0.8967" stop-color="#089cea"/><stop offset="0.9058" stop-color="#069fe8"/><stop offset="0.9149" stop-color="#04a2e5"/><stop offset="0.9239" stop-color="#03a5e2"/><stop offset="0.9330" stop-color="#00b4c5"/><stop offset="0.9420" stop-color="#04c37c"/><stop offset="0.9511" stop-color="#e3c71e"/><stop offset="0.9601" stop-color="#fcbc27"/><stop offset="0.9692" stop-color="#ffc51e"/><stop offset="0.9783" stop-color="#ffd312"/><stop offset="0.9873" stop-color="#fde00f"/><stop offset="0.9964" stop-color="#fde40f"/><stop offset="1.0000" stop-color="#fde50f"/></radialGradient></defs>
<circle cx="437.2" cy="249.5" r="55.2" fill="url(#gf)"/>
<path d="M464.90,209.93A48.3,48.3 0 0 0 409.50,209.93" fill="none" stroke="#1f82f5" stroke-width="2.2" stroke-linecap="round" stroke-opacity="0.8" filter="url(#bl)"/>
<path d="M409.50,289.07A48.3,48.3 0 0 0 464.90,289.07" fill="none" stroke="#1f82f5" stroke-width="2.2" stroke-linecap="round" stroke-opacity="0.8" filter="url(#bl)"/>
<path d="M400.20,218.45A48.3,48.3 0 0 0 390.55,237.00" fill="none" stroke="#1f82f5" stroke-width="2.0" stroke-linecap="round" stroke-opacity="0.6" filter="url(#bl)"/>
<path d="M414.38,200.56A54.0,54.0 0 0 0 385.04,235.52" fill="none" stroke="#faee14" stroke-width="1.6" stroke-linecap="round" stroke-opacity="1.0" filter="url(#bl)"/>
<path d="M385.04,263.48A54.0,54.0 0 0 0 418.73,300.24" fill="none" stroke="#faee14" stroke-width="1.6" stroke-linecap="round" stroke-opacity="1.0" filter="url(#bl)"/>
<path d="M455.67,300.24A54.0,54.0 0 0 0 487.94,267.97" fill="none" stroke="#faee14" stroke-width="1.6" stroke-linecap="round" stroke-opacity="1.0" filter="url(#bl)"/>
<path d="M489.36,235.52A54.0,54.0 0 0 0 464.20,202.73" fill="none" stroke="#faee14" stroke-width="1.2" stroke-linecap="round" stroke-opacity="1.0" filter="url(#bl)"/>
</g>
<defs><linearGradient id="cbf" x1="0" y1="1" x2="0" y2="0"><stop offset="0.0000" stop-color="#4222ac"/><stop offset="0.0156" stop-color="#4425b4"/><stop offset="0.0312" stop-color="#4529bd"/><stop offset="0.0469" stop-color="#462dc5"/><stop offset="0.0625" stop-color="#4632cd"/><stop offset="0.0781" stop-color="#4737d5"/><stop offset="0.0938" stop-color="#473bdd"/><stop offset="0.1094" stop-color="#4641e3"/><stop offset="0.1250" stop-color="#4546e8"/><stop offset="0.1406" stop-color="#444bed"/><stop offset="0.1562" stop-color="#4351f1"/><stop offset="0.1719" stop-color="#4157f5"/><stop offset="0.1875" stop-color="#3c5df7"/><stop offset="0.2031" stop-color="#3763f9"/><stop offset="0.2188" stop-color="#326afa"/><stop offset="0.2344" stop-color="#2d70fc"/><stop offset="0.2500" stop-color="#2876fa"/><stop offset="0.2656" stop-color="#237cf7"/><stop offset="0.2812" stop-color="#1f83f5"/><stop offset="0.2969" stop-color="#1a89f2"/><stop offset="0.3125" stop-color="#158ff0"/><stop offset="0.3281" stop-color="#1094ed"/><stop offset="0.3438" stop-color="#0a9aeb"/><stop offset="0.3594" stop-color="#05a0e8"/><stop offset="0.3750" stop-color="#03a4e2"/><stop offset="0.3906" stop-color="#02a9dc"/><stop offset="0.4062" stop-color="#00aed6"/><stop offset="0.4219" stop-color="#00b1ce"/><stop offset="0.4375" stop-color="#00b4c5"/><stop offset="0.4531" stop-color="#00b8bd"/><stop offset="0.4688" stop-color="#00bab4"/><stop offset="0.4844" stop-color="#00bbab"/><stop offset="0.5000" stop-color="#00bca3"/><stop offset="0.5156" stop-color="#00be9a"/><stop offset="0.5312" stop-color="#01bf92"/><stop offset="0.5469" stop-color="#02c08b"/><stop offset="0.5625" stop-color="#03c284"/><stop offset="0.5781" stop-color="#04c37d"/><stop offset="0.5938" stop-color="#08c475"/><stop offset="0.6094" stop-color="#0fc56e"/><stop offset="0.6250" stop-color="#1ac666"/><stop offset="0.6406" stop-color="#2fc75c"/><stop offset="0.6562" stop-color="#4bc950"/><stop offset="0.6719" stop-color="#76cc40"/><stop offset="0.6875" stop-color="#9ccd32"/><stop offset="0.7031" stop-color="#becc27"/><stop offset="0.7188" stop-color="#d5ca21"/><stop offset="0.7344" stop-color="#e6c61f"/><stop offset="0.7500" stop-color="#f0c222"/><stop offset="0.7656" stop-color="#f7bd26"/><stop offset="0.7812" stop-color="#fab92a"/><stop offset="0.7969" stop-color="#fcbb28"/><stop offset="0.8125" stop-color="#fdbd26"/><stop offset="0.8281" stop-color="#febf24"/><stop offset="0.8438" stop-color="#ffc320"/><stop offset="0.8594" stop-color="#ffc81c"/><stop offset="0.8750" stop-color="#ffce17"/><stop offset="0.8906" stop-color="#ffd313"/><stop offset="0.9062" stop-color="#ffd80f"/><stop offset="0.9219" stop-color="#fedd0f"/><stop offset="0.9375" stop-color="#fde10f"/><stop offset="0.9531" stop-color="#fce60f"/><stop offset="0.9688" stop-color="#fbeb11"/><stop offset="0.9844" stop-color="#faf015"/><stop offset="1.0000" stop-color="#f8f519"/></linearGradient></defs>
<rect x="522.0" y="180.0" width="7.2000000000000455" height="139.2" fill="url(#cbf)" stroke="#444" stroke-width="0.3"/>
<g font-family='"Liberation Sans", Arial, sans-serif' font-size="5.25" fill="#262626">
<text x="436.45" y="177.10" text-anchor="middle" font-size="5.75" fill="#111" stroke="#111" stroke-width="0.1">Fitting residual</text>
<text x="363.1" y="182.35" text-anchor="end">1</text>
<text x="363.1" y="196.31" text-anchor="end">0.8</text>
<text x="363.1" y="210.27" text-anchor="end">0.6</text>
<text x="363.1" y="224.23" text-anchor="end">0.4</text>
<text x="363.1" y="238.19" text-anchor="end">0.2</text>
<text x="363.1" y="252.15" text-anchor="end">0</text>
<text x="363.1" y="266.11" text-anchor="end">-0.2</text>
<text x="363.1" y="280.07" text-anchor="end">-0.4</text>
<text x="363.1" y="294.03" text-anchor="end">-0.6</text>
<text x="363.1" y="307.99" text-anchor="end">-0.8</text>
<text x="363.1" y="321.95" text-anchor="end">-1</text>
<text x="365.50" y="327.55" text-anchor="middle">-1</text>
<text x="400.98" y="327.55" text-anchor="middle">-0.5</text>
<text x="436.45" y="327.55" text-anchor="middle">0</text>
<text x="471.92" y="327.55" text-anchor="middle">0.5</text>
<text x="507.40" y="327.55" text-anchor="middle">1</text>
<text x="436.45" y="335.00" text-anchor="middle" font-size="5.65">x(cm)</text>
<text transform="translate(351.0,249.39999999999998) rotate(-90)" text-anchor="middle" font-size="6.15">y(cm)</text>
<text x="531.4000000000001" y="315.36">-6</text>
<rect x="528.0" y="313.26" width="1.2" height="0.4" fill="#333"/>
<text x="531.4000000000001" y="299.84">-4</text>
<rect x="528.0" y="297.74" width="1.2" height="0.4" fill="#333"/>
<text x="531.4000000000001" y="284.32">-2</text>
<rect x="528.0" y="282.22" width="1.2" height="0.4" fill="#333"/>
<text x="531.4000000000001" y="268.80">0</text>
<rect x="528.0" y="266.70" width="1.2" height="0.4" fill="#333"/>
<text x="531.4000000000001" y="253.28">2</text>
<rect x="528.0" y="251.18" width="1.2" height="0.4" fill="#333"/>
<text x="531.4000000000001" y="237.77">4</text>
<rect x="528.0" y="235.67" width="1.2" height="0.4" fill="#333"/>
<text x="531.4000000000001" y="222.25">6</text>
<rect x="528.0" y="220.15" width="1.2" height="0.4" fill="#333"/>
<text x="531.4000000000001" y="206.73">8</text>
<rect x="528.0" y="204.63" width="1.2" height="0.4" fill="#333"/>
<text x="531.4000000000001" y="191.21">10</text>
<rect x="528.0" y="189.11" width="1.2" height="0.4" fill="#333"/>
<text x="530.1" y="177.50" fill="#5c6670" font-size="5">×10<tspan dy="-2" font-size="3.6">-5</tspan></text>
</g>
<text transform="translate(544.8,250.2) rotate(-90)" text-anchor="middle" font-family='"Liberation Serif", "Times New Roman", serif' font-size="7.2" font-weight="bold" fill="#33333c">wavelength</text>
<text x="372.5" y="193.3" font-family='"Liberation Sans", Arial, sans-serif' font-size="11.6" fill="#fff" stroke="#fff" stroke-width="0.2">(f)</text>
</svg></body></html>
